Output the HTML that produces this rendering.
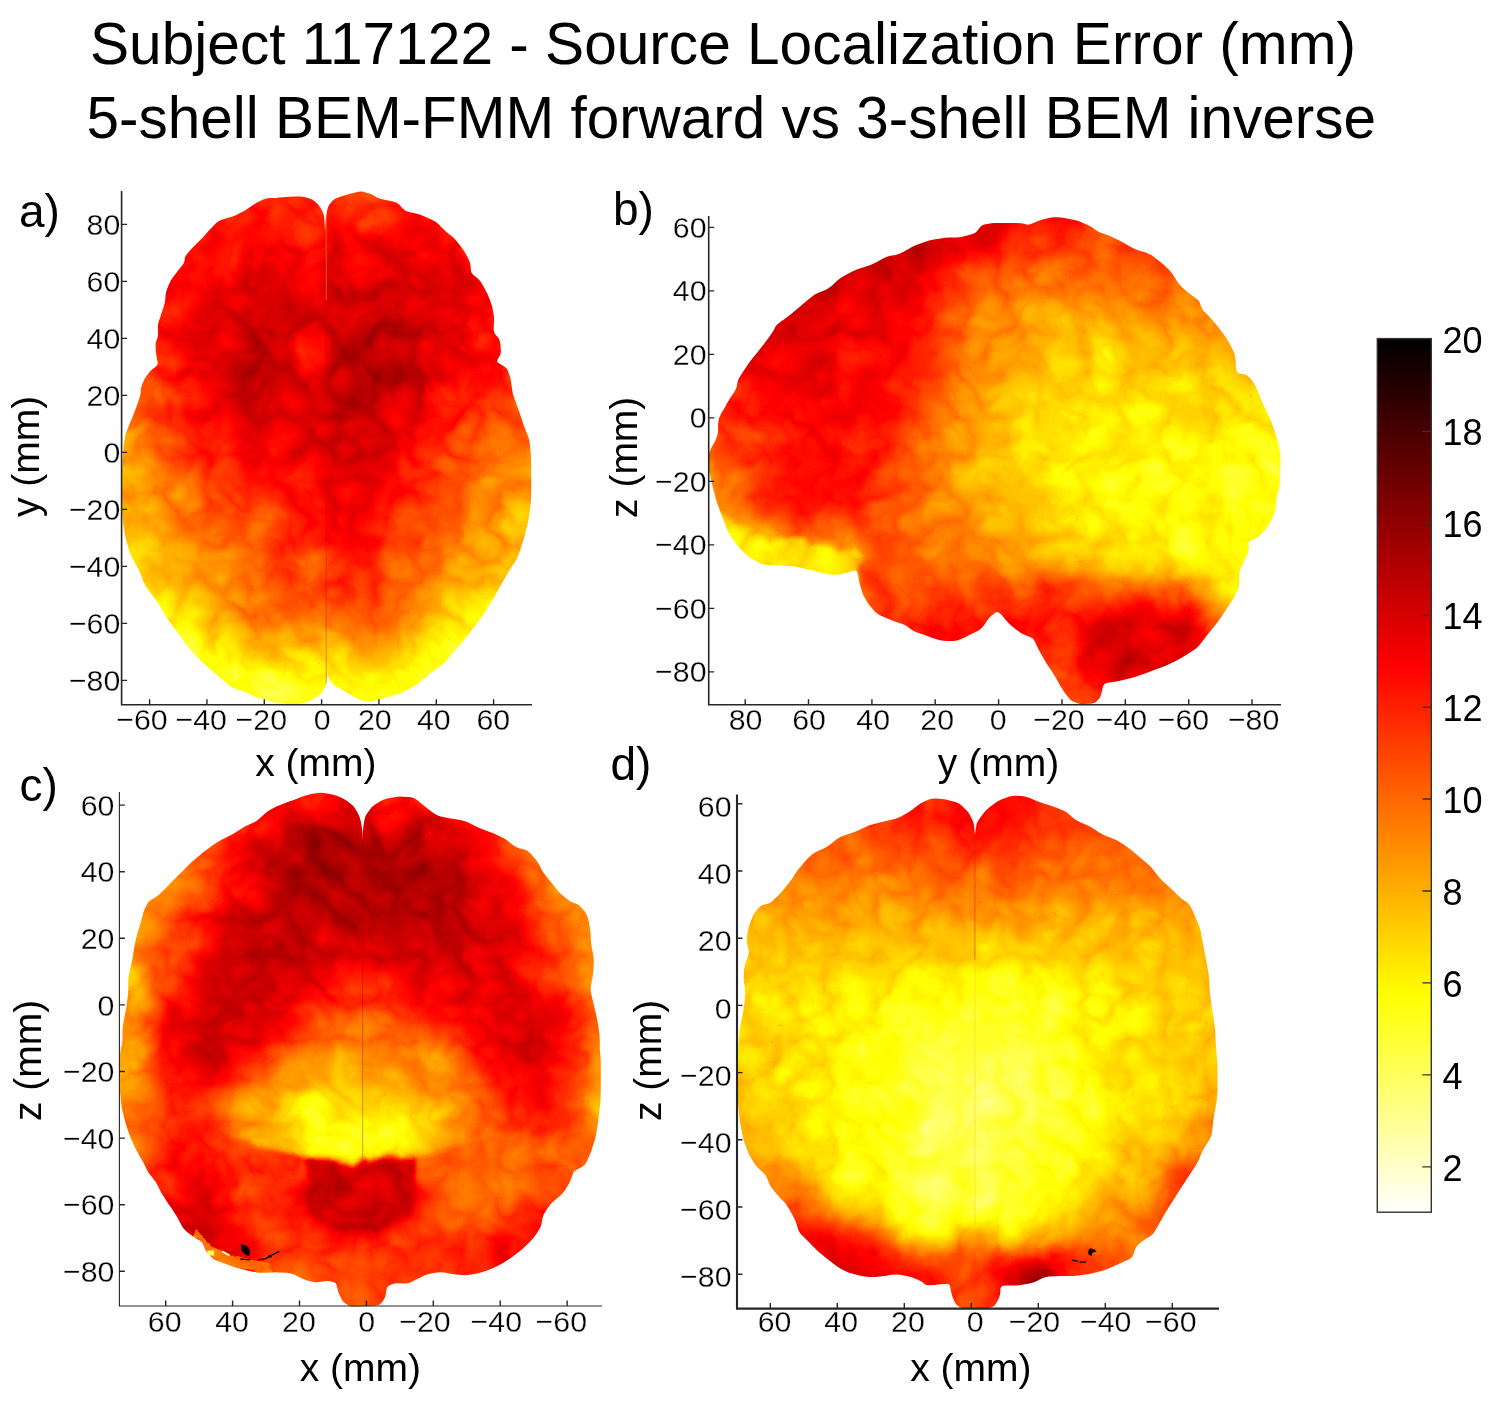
<!DOCTYPE html>
<html lang="en"><head><meta charset="utf-8"><title>Subject 117122 - Source Localization Error</title>
<style>html,body{margin:0;padding:0;background:#fff}body{width:1492px;height:1402px;overflow:hidden}svg{display:block}text{font-family:"Liberation Sans", "DejaVu Sans", sans-serif}</style>
</head><body>
<svg width="1492" height="1402" viewBox="0 0 1492 1402">
<defs>
<linearGradient id="hot" x1="0" y1="1" x2="0" y2="0"><stop offset="0" stop-color="#fff"/><stop offset="0.25" stop-color="#ff0"/><stop offset="0.625" stop-color="#f00"/><stop offset="1" stop-color="#000"/></linearGradient>
<filter id="cm-a" x="116" y="185" width="421" height="525" filterUnits="userSpaceOnUse" color-interpolation-filters="sRGB"><feTurbulence type="fractalNoise" baseFrequency="0.03" numOctaves="3" seed="3" result="n"/><feColorMatrix in="n" type="matrix" values="1 0 0 0 0 1 0 0 0 0 1 0 0 0 0 0 0 0 0 1" result="ng"/><feDisplacementMap in="SourceGraphic" in2="n" scale="16" xChannelSelector="G" yChannelSelector="B" result="d"/><feComposite in="d" in2="ng" operator="arithmetic" k1="0" k2="1" k3="0.08" k4="-0.04" result="e"/><feTurbulence type="turbulence" baseFrequency="0.024" numOctaves="2" seed="23" result="t"/><feColorMatrix in="t" type="matrix" values="1 0 0 0 0 1 0 0 0 0 1 0 0 0 0 0 0 0 0 1" result="tg"/><feDisplacementMap in="tg" in2="n" scale="20" xChannelSelector="R" yChannelSelector="G" result="tgd"/><feComposite in="e" in2="tgd" operator="arithmetic" k1="0" k2="1" k3="0.15" k4="-0.0396" result="e"/><feComponentTransfer in="e"><feFuncR type="table" tableValues="0 0.333 0.667 1 1 1 1 1 1"/><feFuncG type="table" tableValues="0 0 0 0 0.333 0.667 1 1 1"/><feFuncB type="table" tableValues="0 0 0 0 0 0 0 0.5 1"/><feFuncA type="linear" slope="0" intercept="1"/></feComponentTransfer></filter>
<filter id="cm-b" x="702" y="211" width="584" height="499" filterUnits="userSpaceOnUse" color-interpolation-filters="sRGB"><feTurbulence type="fractalNoise" baseFrequency="0.03" numOctaves="3" seed="5" result="n"/><feColorMatrix in="n" type="matrix" values="1 0 0 0 0 1 0 0 0 0 1 0 0 0 0 0 0 0 0 1" result="ng"/><feDisplacementMap in="SourceGraphic" in2="n" scale="16" xChannelSelector="G" yChannelSelector="B" result="d"/><feComposite in="d" in2="ng" operator="arithmetic" k1="0" k2="1" k3="0.07" k4="-0.035" result="e"/><feTurbulence type="turbulence" baseFrequency="0.024" numOctaves="2" seed="25" result="t"/><feColorMatrix in="t" type="matrix" values="1 0 0 0 0 1 0 0 0 0 1 0 0 0 0 0 0 0 0 1" result="tg"/><feDisplacementMap in="tg" in2="n" scale="20" xChannelSelector="R" yChannelSelector="G" result="tgd"/><feComposite in="e" in2="tgd" operator="arithmetic" k1="0" k2="1" k3="0.13" k4="-0.03432" result="e"/><feComponentTransfer in="e"><feFuncR type="table" tableValues="0 0.333 0.667 1 1 1 1 1 1"/><feFuncG type="table" tableValues="0 0 0 0 0.333 0.667 1 1 1"/><feFuncB type="table" tableValues="0 0 0 0 0 0 0 0.5 1"/><feFuncA type="linear" slope="0" intercept="1"/></feComponentTransfer></filter>
<filter id="cm-c" x="113" y="786" width="493" height="526" filterUnits="userSpaceOnUse" color-interpolation-filters="sRGB"><feTurbulence type="fractalNoise" baseFrequency="0.03" numOctaves="3" seed="7" result="n"/><feColorMatrix in="n" type="matrix" values="1 0 0 0 0 1 0 0 0 0 1 0 0 0 0 0 0 0 0 1" result="ng"/><feDisplacementMap in="SourceGraphic" in2="n" scale="9" xChannelSelector="G" yChannelSelector="B" result="d"/><feComposite in="d" in2="ng" operator="arithmetic" k1="0" k2="1" k3="0.08" k4="-0.04" result="e"/><feTurbulence type="turbulence" baseFrequency="0.024" numOctaves="2" seed="27" result="t"/><feColorMatrix in="t" type="matrix" values="1 0 0 0 0 1 0 0 0 0 1 0 0 0 0 0 0 0 0 1" result="tg"/><feDisplacementMap in="tg" in2="n" scale="20" xChannelSelector="R" yChannelSelector="G" result="tgd"/><feComposite in="e" in2="tgd" operator="arithmetic" k1="0" k2="1" k3="0.15" k4="-0.0396" result="e"/><feComponentTransfer in="e"><feFuncR type="table" tableValues="0 0.333 0.667 1 1 1 1 1 1"/><feFuncG type="table" tableValues="0 0 0 0 0.333 0.667 1 1 1"/><feFuncB type="table" tableValues="0 0 0 0 0 0 0 0.5 1"/><feFuncA type="linear" slope="0" intercept="1"/></feComponentTransfer></filter>
<filter id="cm-d" x="731" y="789" width="491" height="524" filterUnits="userSpaceOnUse" color-interpolation-filters="sRGB"><feTurbulence type="fractalNoise" baseFrequency="0.03" numOctaves="3" seed="9" result="n"/><feColorMatrix in="n" type="matrix" values="1 0 0 0 0 1 0 0 0 0 1 0 0 0 0 0 0 0 0 1" result="ng"/><feDisplacementMap in="SourceGraphic" in2="n" scale="16" xChannelSelector="G" yChannelSelector="B" result="d"/><feComposite in="d" in2="ng" operator="arithmetic" k1="0" k2="1" k3="0.07" k4="-0.035" result="e"/><feTurbulence type="turbulence" baseFrequency="0.024" numOctaves="2" seed="29" result="t"/><feColorMatrix in="t" type="matrix" values="1 0 0 0 0 1 0 0 0 0 1 0 0 0 0 0 0 0 0 1" result="tg"/><feDisplacementMap in="tg" in2="n" scale="20" xChannelSelector="R" yChannelSelector="G" result="tgd"/><feComposite in="e" in2="tgd" operator="arithmetic" k1="0" k2="1" k3="0.13" k4="-0.03432" result="e"/><feComponentTransfer in="e"><feFuncR type="table" tableValues="0 0.333 0.667 1 1 1 1 1 1"/><feFuncG type="table" tableValues="0 0 0 0 0.333 0.667 1 1 1"/><feFuncB type="table" tableValues="0 0 0 0 0 0 0 0.5 1"/><feFuncA type="linear" slope="0" intercept="1"/></feComponentTransfer></filter>
<filter id="blur" x="0" y="0" width="100%" height="100%" filterUnits="userSpaceOnUse" color-interpolation-filters="sRGB"><feGaussianBlur stdDeviation="7"/></filter>
<filter id="blur2" x="0" y="0" width="100%" height="100%" filterUnits="userSpaceOnUse" color-interpolation-filters="sRGB"><feGaussianBlur stdDeviation="2.5"/></filter>
<linearGradient id="gl-c" gradientUnits="userSpaceOnUse" x1="0" y1="1140" x2="0" y2="1195"><stop offset="0" stop-color="#707070"/><stop offset="0.35" stop-color="#707070"/><stop offset="1" stop-color="#707070" stop-opacity="0"/></linearGradient><linearGradient id="gr-c" gradientUnits="userSpaceOnUse" x1="0" y1="1140" x2="0" y2="1195"><stop offset="0" stop-color="#878787"/><stop offset="0.35" stop-color="#878787"/><stop offset="1" stop-color="#878787" stop-opacity="0"/></linearGradient>
<clipPath id="clip-a"><path d="M324.4 219.5Q324.2 214.7 322.7 212L320.5 207.7Q319 205 317.1 203.4L314.2 200.9Q312.3 199.3 309.6 198.5L305.3 197.2Q302.6 196.4 299.9 196.4L295.7 196.4Q293 196.4 289.2 196.8L283.3 197.3Q279.5 197.7 275.7 197.9L269.8 198.1Q266 198.3 263.3 199.5L259.1 201.5Q256.4 202.7 253.2 205L248 208.5Q244.8 210.8 242.1 212.1L237.9 214.3Q235.2 215.6 232.5 216.4L228.3 217.7Q225.6 218.5 223.4 219.3L220.1 220.6Q217.9 221.4 215.7 223.6L212.4 226.9Q210.2 229.1 208 231.5L204.7 235.4Q202.5 237.8 199.8 240.5L195.5 244.7Q192.8 247.4 190.6 249.8L187.3 253.7Q185.1 256.1 184.8 258L184.5 260.9Q184.2 262.8 182.3 265.2L179.3 269.1Q177.4 271.5 175.5 273.9L172.6 277.8Q170.7 280.2 169.4 283.4L167.2 288.5Q165.9 291.7 165.6 294.9L165.2 300.1Q164.9 303.3 163.8 306.5L162.1 311.6Q161 314.8 160.1 317.5L158.7 321.8Q157.8 324.5 157.9 327.7L158.1 332.8Q158.2 336 157.4 338.2L156.1 341.5Q155.3 343.7 155.6 346.9L155.9 352.1Q156.2 355.3 156.8 358L157.6 362.2Q158.2 364.9 156 366.5L152.7 369.1Q150.5 370.7 148.9 372.9L146.3 376.2Q144.7 378.4 143.6 381.1L141.9 385.3Q140.8 388 140.8 389.6L140.8 392.2Q140.8 393.8 139.7 397L138.1 402.2Q137 405.4 136.2 407.6L134.9 410.9Q134.1 413.1 132.8 416.3L130.6 421.5Q129.3 424.7 128.2 427.4L126.5 431.6Q125.4 434.3 124.8 438.7L123.7 445.6Q123.1 450 122.8 458.4L122.3 471.6Q122 480 122.1 491.2L122.3 508.7Q122.4 519.9 123.4 525.5L125 534.2Q126 539.8 127.1 543.7L128.9 549.9Q130 553.8 132.8 558.8L137.1 566.8Q139.9 571.8 141.3 575.7L143.5 581.8Q144.9 585.7 148 589.6L152.8 595.8Q155.9 599.7 159.3 605.3L164.5 614.1Q167.9 619.7 171.3 624.2L176.5 631.1Q179.9 635.6 182.7 639.5L187.1 645.7Q189.9 649.6 193.8 653.5L199.9 659.7Q203.8 663.6 207.7 667L213.9 672.2Q217.8 675.6 221.7 679L227.9 684.2Q231.8 687.6 235.7 689L241.9 691.1Q245.8 692.5 250.3 694.5L257.2 697.5Q261.7 699.5 266.7 700.6L274.7 702.4Q279.7 703.5 284.2 703.8L291.2 704.2Q295.7 704.5 299.6 703.7L305.7 702.3Q309.6 701.5 313 699.3L318.2 695.7Q321.6 693.5 323 691L325.1 687.1Q326.5 684.6 326.8 681.1L327.3 675.5Q327.6 672 328.1 674.2L328.9 677.8Q329.4 680 330.7 681.6L332.7 684Q334 685.6 335.7 686.4L338.3 687.8Q340 688.6 342.8 690.3L347.1 692.8Q349.9 694.5 352.7 696.2L357.1 698.8Q359.9 700.5 362.7 700.8L367.1 701.2Q369.9 701.5 373.8 700.7L380 699.3Q383.9 698.5 388.4 697.1L395.4 694.9Q399.9 693.5 404.4 691.3L411.3 687.8Q415.8 685.6 419.7 682.2L425.9 677Q429.8 673.6 433.7 670.8L439.9 666.4Q443.8 663.6 447.2 659.7L452.4 653.5Q455.8 649.6 459.1 645.7L464.4 639.5Q467.7 635.6 471.1 631.1L476.3 624.2Q479.7 619.7 483.1 614.7L488.3 606.7Q491.7 601.7 494.5 596.7L498.9 588.7Q501.7 583.7 503.9 579.8L507.5 573.7Q509.7 569.8 511.9 566.4L515.4 561.2Q517.6 557.8 519.3 552.8L521.9 544.8Q523.6 539.8 525 534.2L527.2 525.5Q528.6 519.9 529.3 514.3L530.5 505.5Q531.2 499.9 531.2 488.7L531.2 471.2Q531.2 460 530.8 454.4L530 445.6Q529.6 440 528.1 436.2L525.7 430.4Q524.2 426.6 522.6 421.7L520 414.1Q518.4 409.2 516.8 404.9L514.2 398.1Q512.6 393.8 512.1 389.5L511.2 382.7Q510.7 378.4 509.6 375.4L508 370.8Q506.9 367.8 503.9 366.2L499.3 363.6Q496.3 362 497.6 359.6L499.8 355.8Q501.1 353.4 500.8 349.6L500.4 343.7Q500.1 339.9 498.2 337.7L495.3 334.4Q493.4 332.2 493.7 328.4L494 322.5Q494.3 318.7 493.8 315.5L492.9 310.3Q492.4 307.1 491.1 303.3L488.9 297.5Q487.6 293.7 485.4 289.9L482.1 284Q479.9 280.2 477.5 278.3L473.6 275.3Q471.2 273.4 470.9 270.4L470.6 265.8Q470.3 262.8 468.7 259.6L466.1 254.5Q464.5 251.3 461.8 247.8L457.5 242.3Q454.8 238.8 452.1 236.6L447.9 233.2Q445.2 231 442.5 228.3L438.3 224.1Q435.6 221.4 431.3 219.5L424.5 216.6Q420.2 214.7 415.9 213.6L409.1 211.9Q404.8 210.8 402.6 208.4L399.3 204.6Q397.1 202.2 392.2 201.3L384.6 199.8Q379.7 198.9 377 197.4L372.8 195Q370.1 193.5 367.4 192.9L363.2 191.8Q360.5 191.2 356.2 192.3L349.3 193.9Q345 195 341.8 196.2L336.7 198.1Q333.5 199.3 331.9 201.5L329.3 204.8Q327.7 207 327.2 210.2L326.3 215.3Q325.8 218.5 325.6 222.3L325.2 228.2Q325 232 324.8 227.2Z"/></clipPath>
<clipPath id="clip-b"><path d="M708.4 457.5Q708.4 453.4 711.1 448.3L715.4 440.4Q718.1 435.3 718.1 430.8L718.1 423.7Q718.1 419.2 720.9 414.1L725.4 406.2Q728.2 401.1 730.4 397.7L734 392.4Q736.2 389 736.8 386.2L737.6 381.8Q738.2 379 741.6 373.9L746.9 366Q750.3 360.9 753.1 357.5L757.5 352.2Q760.3 348.8 763.7 344.3L769 337.2Q772.4 332.7 773.5 330.5L775.3 326.9Q776.4 324.7 780.3 321.9L786.6 317.4Q790.5 314.6 794.4 311.2L800.7 306Q804.6 302.6 807.4 300.3L811.8 296.8Q814.6 294.5 818.5 292.8L824.8 290.2Q828.7 288.5 832.1 285.4L837.4 280.5Q840.8 277.4 845.3 275.2L852.3 271.6Q856.8 269.4 861.3 268L868.4 265.7Q872.9 264.3 876.8 262.1L883.1 258.5Q887 256.3 890.4 255.7L895.7 254.9Q899.1 254.3 903 252L909.3 248.5Q913.2 246.2 917.7 244.5L924.7 241.9Q929.2 240.2 933.7 239.5L940.8 238.5Q945.3 237.8 949.8 237.6L956.9 237.4Q961.4 237.2 965.3 236.1L971.6 234.3Q975.5 233.2 977.2 230.9L979.8 227.4Q981.5 225.1 984.3 224.5L988.8 223.7Q991.6 223.1 994 223.1L997.6 223.1Q1000 223.1 1006.2 223.1L1016 223.1Q1022.2 223.1 1023.9 223.7L1026.5 224.5Q1028.2 225.1 1031.6 223.7L1036.9 221.5Q1040.3 220.1 1043.7 219.3L1048.9 217.9Q1052.3 217.1 1055.7 217.3L1061 217.5Q1064.4 217.7 1068.3 218.7L1074.6 220.1Q1078.5 221.1 1081.9 222.5L1087.1 224.7Q1090.5 226.1 1092.8 227.8L1096.3 230.5Q1098.6 232.2 1102 233.3L1107.3 235.1Q1110.7 236.2 1114.1 237.9L1119.3 240.5Q1122.7 242.2 1126.1 244.2L1131.4 247.3Q1134.8 249.3 1138.7 250.4L1145 252.2Q1148.9 253.3 1152.3 255.8L1157.5 259.8Q1160.9 262.3 1163.7 264.8L1168.2 268.9Q1171 271.4 1173.2 275.1L1176.8 280.8Q1179 284.5 1181.8 287L1186.3 291Q1189.1 293.5 1191.9 295.5L1196.3 298.5Q1199.1 300.5 1199.9 303L1201.3 307.1Q1202.1 309.6 1204.6 312.1L1208.7 316.1Q1211.2 318.6 1214 322L1218.4 327.3Q1221.2 330.7 1223.5 334.1L1227 339.4Q1229.3 342.8 1231 346.2L1233.6 351.4Q1235.3 354.8 1235.6 359.9L1236 367.8Q1236.3 372.9 1239.4 373.5L1244.3 374.3Q1247.4 374.9 1249.6 377.7L1253.2 382.2Q1255.4 385 1257.1 389.5L1259.8 396.6Q1261.5 401.1 1263.7 405.6L1267.3 412.7Q1269.5 417.2 1271.2 421.7L1273.8 428.8Q1275.5 433.3 1276.6 437.8L1278.5 444.8Q1279.6 449.3 1279.9 452.3L1280.3 457Q1280.6 460 1280.3 467.3L1279.9 478.9Q1279.6 486.2 1278.7 489.6L1277.4 494.9Q1276.5 498.3 1276.2 501.7L1275.8 506.9Q1275.5 510.3 1273.8 514.2L1271.2 520.5Q1269.5 524.4 1266.7 527.8L1262.3 533.1Q1259.5 536.5 1256.1 538.2L1250.8 540.8Q1247.4 542.5 1248 543.6L1248.8 545.4Q1249.4 546.5 1248.8 548.8L1248 552.3Q1247.4 554.6 1245.1 559.1L1241.6 566.2Q1239.3 570.7 1239.3 575.2L1239.3 582.2Q1239.3 586.7 1237.6 590.1L1235 595.4Q1233.3 598.8 1231.1 602.2L1227.5 607.5Q1225.3 610.9 1223 614.3L1219.5 619.5Q1217.2 622.9 1214.4 626.3L1210 631.6Q1207.2 635 1204.4 638.7L1199.9 644.4Q1197.1 648.1 1193.2 650.6L1186.9 654.6Q1183 657.1 1178.5 659.4L1171.5 662.9Q1167 665.2 1162.5 666.9L1155.4 669.5Q1150.9 671.2 1146.4 672.9L1139.3 675.5Q1134.8 677.2 1130.3 678.3L1123.2 680.1Q1118.7 681.2 1114.5 681.8L1107.8 682.7Q1103.6 683.3 1102.8 687.2L1101.4 693.4Q1100.6 697.3 1098.9 699L1096.3 701.7Q1094.6 703.4 1090.7 703.7L1084.4 704.1Q1080.5 704.4 1077.7 703.3L1073.2 701.5Q1070.4 700.4 1068.2 697.3L1064.6 692.4Q1062.4 689.3 1060.1 685.4L1056.6 679.1Q1054.3 675.2 1052.1 671.8L1048.5 666.6Q1046.3 663.2 1044.1 659.3L1040.5 653Q1038.3 649.1 1036.9 646L1034.6 641.1Q1033.2 638 1030.1 636.9L1025.3 635.1Q1022.2 634 1018.8 631.5L1013.5 627.4Q1010.1 624.9 1006.7 621L1001.4 614.8Q998 610.9 995.6 612.6L992 615.2Q989.6 616.9 987.3 620.3L983.8 625.6Q981.5 629 978.1 630.7L972.9 633.3Q969.5 635 966.1 636.7L960.8 639.3Q957.4 641 952.9 641L945.8 641Q941.3 641 937.4 639.6L931.1 637.4Q927.2 636 923.3 634.6L917.1 632.4Q913.2 631 910.9 629.3L907.4 626.6Q905.1 624.9 901.7 623.8L896.4 622Q893 620.9 888.5 618.9L881.5 615.9Q877 613.9 874.7 611.4L871.2 607.3Q868.9 604.8 867.2 602L864.6 597.6Q862.9 594.8 861.8 590.9L860 584.6Q858.9 580.7 858.3 577.6L857.4 572.7Q856.8 569.6 852.3 571L845.3 573.3Q840.8 574.7 837.4 574.7L832.1 574.7Q828.7 574.7 824.2 573.6L817.1 571.8Q812.6 570.7 808.1 569.6L801 567.7Q796.5 566.6 792 566.3L784.9 565.9Q780.4 565.6 775.3 565.3L767.4 564.9Q762.3 564.6 758.4 562.4L752.2 558.8Q748.3 556.6 744.9 553.2L739.6 547.9Q736.2 544.5 734 541.1L730.4 535.8Q728.2 532.4 726.5 527.9L723.8 520.9Q722.1 516.4 720.4 511.9L717.8 504.8Q716.1 500.3 715 495.8L713.2 488.7Q712.1 484.2 711.1 479.7L709.4 472.6Q708.4 468.1 708.4 464Z"/></clipPath>
<clipPath id="clip-c"><path d="M362.4 833.4Q362.3 830.1 361.8 826.9L360.9 821.7Q360.4 818.5 358.8 815.3L356.2 810.2Q354.6 807 351.9 804.8L347.7 801.5Q345 799.3 341.8 797.9L336.6 795.8Q333.4 794.4 329.6 793.9L323.7 793Q319.9 792.5 316.1 793.2L310.3 794.3Q306.5 795 302.7 796.5L296.8 798.7Q293 800.2 289.2 801.5L283.3 803.7Q279.5 805 276.3 806.6L271.1 809.2Q267.9 810.8 264.7 813.8L259.6 818.4Q256.4 821.4 253.2 822.7L248 824.9Q244.8 826.2 241.6 828.4L236.5 831.7Q233.3 833.9 229 836.1L222.2 839.4Q217.9 841.6 214.1 844.3L208.2 848.6Q204.4 851.3 200.6 854.5L194.7 859.6Q190.9 862.8 187.7 866L182.5 871.2Q179.3 874.4 176.6 877.1L172.4 881.3Q169.7 884 166.5 887.2L161.4 892.4Q158.2 895.6 155.5 897.2L151.2 899.7Q148.5 901.3 147.2 904L145 908.3Q143.7 911 142.9 914.2L141.6 919.3Q140.8 922.5 139.7 925.7L138.1 930.9Q137 934.1 136.2 937.9L134.9 943.8Q134.1 947.6 133.5 951.4L132.7 957.2Q132.1 961 131 965.3L129.4 972.2Q128.3 976.5 128.3 980.8L128.3 987.6Q128.3 991.9 127.8 996.2L126.9 1003Q126.4 1007.3 125.3 1012.7L123.6 1021.1Q122.5 1026.5 122.5 1030.8L122.5 1037.6Q122.5 1041.9 122 1044.2L121.1 1047.7Q120.6 1050 120.3 1052.6L119.9 1056.7Q119.6 1059.3 119.6 1067.4L119.6 1080.1Q119.6 1088.2 120.2 1093.6L121 1102Q121.6 1107.4 122.7 1111.7L124.3 1118.5Q125.4 1122.8 126.5 1126L128.2 1131.2Q129.3 1134.4 130.9 1138.2L133.4 1144.1Q135 1147.9 137.2 1151.7L140.5 1157.5Q142.7 1161.3 144.3 1164.5L146.9 1169.7Q148.5 1172.9 150.7 1175.6L154 1179.8Q156.2 1182.5 157.8 1185.7L160.4 1190.9Q162 1194.1 164.2 1197.3L167.5 1202.4Q169.7 1205.6 171.9 1208.8L175.2 1214Q177.4 1217.2 179 1220.4L181.6 1225.6Q183.2 1228.8 185.9 1231L190.1 1234.3Q192.8 1236.5 195.5 1238.1L199.7 1240.6Q202.4 1242.2 203.5 1244.9L205.2 1249.2Q206.3 1251.9 208.5 1254.1L211.8 1257.4Q214 1259.6 218.3 1261.2L225.1 1263.7Q229.4 1265.3 233.7 1266.7L240.5 1268.8Q244.8 1270.2 249.1 1271L255.9 1272.2Q260.2 1273 264.5 1272.7L271.3 1272.4Q275.6 1272.1 279.9 1272.4L286.7 1272.7Q291 1273 294.2 1274.6L299.4 1277.2Q302.6 1278.8 305.8 1279.9L311 1281.6Q314.2 1282.7 318 1282.2L323.8 1281.3Q327.6 1280.8 330 1281.3L333.9 1282.2Q336.3 1282.7 336.8 1285.4L337.7 1289.6Q338.2 1292.3 339.5 1295L341.7 1299.2Q343 1301.9 345.2 1303.3L348.5 1305.4Q350.7 1306.8 358.7 1306.5L371.3 1306.1Q379.3 1305.8 380.9 1303.6L383.4 1300.3Q385 1298.1 385.6 1294.9L386.4 1289.7Q387 1286.5 389.2 1285.5L392.5 1284.1Q394.7 1283.1 398.5 1283.2L404.4 1283.5Q408.2 1283.6 410.9 1282.3L415.1 1280.1Q417.8 1278.8 420.5 1277.5L424.7 1275.3Q427.4 1274 431.2 1273.5L437.1 1272.6Q440.9 1272.1 444.1 1272.6L449.2 1273.5Q452.4 1274 456.2 1274.4L462.1 1275Q465.9 1275.4 469.7 1274.7L475.6 1273.7Q479.4 1273 482.6 1271.9L487.8 1270.3Q491 1269.2 494.2 1267.6L499.3 1265Q502.5 1263.4 505.7 1261.2L510.9 1257.9Q514.1 1255.7 516.8 1253.5L521 1250.2Q523.7 1248 526.4 1245.3L530.6 1241.1Q533.3 1238.4 535.5 1235.2L538.8 1230Q541 1226.8 541.6 1223.6L542.4 1218.5Q543 1215.3 545.2 1212.1L548.5 1206.9Q550.7 1203.7 553.9 1201L559 1196.8Q562.2 1194.1 564.4 1190.9L567.7 1185.7Q569.9 1182.5 571 1179.3L572.7 1174.2Q573.8 1171 577 1169.4L582.1 1166.8Q585.3 1165.2 586.9 1161.4L589.5 1155.5Q591.1 1151.7 592.4 1147.4L594.6 1140.6Q595.9 1136.3 596.7 1130.9L598 1122.4Q598.8 1117 599.4 1111.6L600.2 1103.2Q600.8 1097.8 600.8 1087L600.8 1070.1Q600.8 1059.3 600.5 1056.7L600.1 1052.6Q599.8 1050 599.8 1046.7L599.8 1041.4Q599.8 1038.1 599.3 1033.8L598.4 1027Q597.9 1022.7 596.8 1017.8L595.1 1010.2Q594 1005.3 592.9 1001L591.3 994.2Q590.2 989.9 591 985.6L592.3 978.8Q593.1 974.5 593.4 970.2L593.7 963.4Q594 959.1 593.2 954.8L591.9 948Q591.1 943.7 590.8 939.4L590.5 932.6Q590.2 928.3 589.4 924.5L588.1 918.6Q587.3 914.8 585.1 912.1L581.8 907.9Q579.6 905.2 576.9 904.1L572.6 902.4Q569.9 901.3 567.2 899.1L563 895.8Q560.3 893.6 558.1 890.9L554.8 886.7Q552.6 884 549.9 880.8L545.7 875.6Q543 872.4 541.4 869.2L538.8 864.1Q537.2 860.9 534.5 857.9L530.3 853.3Q527.6 850.3 524.4 849.5L519.2 848.2Q516 847.4 513.3 845.2L509.1 841.9Q506.4 839.7 503.2 838.1L498 835.5Q494.8 833.9 490.5 832.3L483.7 829.8Q479.4 828.2 475.1 826L468.3 822.6Q464 820.4 460.2 819.9L454.3 819Q450.5 818.5 446.7 817.7L440.8 816.4Q437 815.6 433.8 813.2L428.7 809.4Q425.5 807 422.3 804.3L417.1 800Q413.9 797.3 409.6 797L402.8 796.7Q398.5 796.4 394.2 797.2L387.4 798.5Q383.1 799.3 379.9 801.5L374.8 804.8Q371.6 807 369.7 809.7L366.7 813.9Q364.8 816.6 364.3 820.4L363.4 826.3Q362.9 830.1 362.8 833.4L362.7 838.7Q362.6 842 362.5 838.7Z"/></clipPath>
<clipPath id="clip-d"><path d="M975 837.3Q975 833.9 974.6 830.7L974 825.6Q973.6 822.4 972.3 819.7L970.1 815.4Q968.8 812.7 966.1 810L961.9 805.8Q959.2 803.1 955.4 802L949.5 800.4Q945.7 799.3 941.9 799L936 798.6Q932.2 798.3 929 799.6L923.9 801.8Q920.7 803.1 918 805.3L913.7 808.6Q911 810.8 907.2 813L901.4 816.3Q897.6 818.5 893.8 819.3L887.9 820.6Q884.1 821.4 879.8 822.5L873 824.2Q868.7 825.3 864.9 827.2L859 830.1Q855.2 832 850.9 833.3L844.1 835.5Q839.8 836.8 836 839.8L830.1 844.4Q826.3 847.4 823.1 848.7L817.9 850.9Q814.7 852.2 812.5 854.1L809.2 857.1Q807 859 804.3 862.2L800.1 867.3Q797.4 870.5 795.2 873.7L791.9 878.9Q789.7 882.1 787 885.3L782.8 890.4Q780.1 893.6 777.4 896.3L773.1 900.6Q770.4 903.3 767.7 903.8L763.5 904.7Q760.8 905.2 758.6 907.9L755.3 912.1Q753.1 914.8 751.8 918.6L749.6 924.5Q748.3 928.3 747.8 931.5L746.9 936.7Q746.4 939.9 747.2 943.7L748.5 949.5Q749.3 953.3 747.9 956.5L745.8 961.7Q744.4 964.9 744.1 968.7L743.8 974.6Q743.5 978.4 744 982.7L744.9 989.5Q745.4 993.8 744.9 998.6L744 1006.3Q743.5 1011.1 742.4 1016L740.7 1023.6Q739.6 1028.5 739.2 1034.5L738.5 1044Q738.1 1050 738 1063.4L737.8 1084.4Q737.7 1097.8 738.2 1104.3L739.1 1114.4Q739.6 1120.9 740.7 1126.3L742.4 1134.8Q743.5 1140.2 745.1 1144.5L747.7 1151.3Q749.3 1155.6 751.5 1158.8L754.8 1163.9Q757 1167.1 759.4 1169.3L763.2 1172.6Q765.6 1174.8 766.9 1178L769.1 1183.2Q770.4 1186.4 772.6 1189.1L776 1193.3Q778.2 1196 780.4 1198.2L783.7 1201.5Q785.9 1203.7 787.5 1206.4L790 1210.6Q791.6 1213.3 792.7 1215.5L794.4 1218.8Q795.5 1221 796.6 1224.2L798.2 1229.4Q799.3 1232.6 802 1235.3L806.3 1239.5Q809 1242.2 811.7 1244.9L815.9 1249.2Q818.6 1251.9 821.3 1254.1L825.5 1257.4Q828.2 1259.6 830.9 1261.8L835.2 1265.1Q837.9 1267.3 841.1 1268.9L846.2 1271.4Q849.4 1273 853.7 1274.1L860.5 1275.8Q864.8 1276.9 869.1 1276.9L875.9 1276.9Q880.2 1276.9 884.5 1276.1L891.3 1274.8Q895.6 1274 899.9 1274.8L906.7 1276.1Q911 1276.9 913.7 1278L918 1279.7Q920.7 1280.8 922.3 1282.1L924.9 1284.3Q926.5 1285.6 929.7 1285.3L934.8 1284.9Q938 1284.6 941.2 1284.3L946.4 1283.9Q949.6 1283.6 950.1 1286.6L951 1291.2Q951.5 1294.2 952.6 1296.9L954.3 1301.2Q955.4 1303.9 957 1305.1L959.5 1306.9Q961.1 1308.1 969 1308.1L981.4 1308.1Q989.3 1308.1 990.9 1307.5L993.4 1306.4Q995 1305.8 996.4 1303.1L998.5 1298.9Q999.9 1296.2 1000.2 1293.2L1000.5 1288.6Q1000.8 1285.6 1005.6 1285.6L1013.3 1285.6Q1018.1 1285.6 1022.4 1284.8L1029.3 1283.5Q1033.6 1282.7 1036.8 1281.1L1041.9 1278.5Q1045.1 1276.9 1048.9 1276.6L1054.8 1276.2Q1058.6 1275.9 1062.9 1275.9L1069.7 1275.9Q1074 1275.9 1078.3 1275.4L1085.1 1274.5Q1089.4 1274 1093.7 1272.9L1100.5 1271.3Q1104.8 1270.2 1109.1 1268.3L1115.9 1265.3Q1120.2 1263.4 1123.7 1261.8L1129.2 1259.2Q1132.7 1257.6 1133.5 1254.6L1134.8 1250Q1135.6 1247 1137.8 1245.1L1141.1 1242.2Q1143.3 1240.3 1146 1238.7L1150.3 1236.1Q1153 1234.5 1155.2 1230.7L1158.5 1224.8Q1160.7 1221 1162.9 1217.2L1166.2 1211.4Q1168.4 1207.6 1170.6 1204.4L1173.9 1199.2Q1176.1 1196 1177.7 1193.3L1180.3 1189.1Q1181.9 1186.4 1184.1 1183.2L1187.4 1178Q1189.6 1174.8 1191.8 1171.6L1195.1 1166.5Q1197.3 1163.3 1198.9 1159.5L1201.4 1153.6Q1203 1149.8 1205.4 1146L1209.3 1140.1Q1211.7 1136.3 1212.2 1130.9L1213.1 1122.4Q1213.6 1117 1214.7 1111.6L1216.4 1103.2Q1217.5 1097.8 1217.5 1088.6L1217.5 1074.2Q1217.5 1065 1217 1058L1216.1 1047Q1215.6 1040 1215.6 1039.5L1215.6 1038.6Q1215.6 1038.1 1215.3 1034.3L1214.9 1028.4Q1214.6 1024.6 1213.8 1019.8L1212.5 1012.1Q1211.7 1007.3 1211.2 1003L1210.3 996.2Q1209.8 991.9 1209.5 987L1209.1 979.4Q1208.8 974.5 1208 970.2L1206.7 963.4Q1205.9 959.1 1205.1 954.8L1203.8 948Q1203 943.7 1202.2 939.4L1201 932.6Q1200.2 928.3 1198.6 924.5L1196 918.6Q1194.4 914.8 1193.1 911.8L1190.9 907.2Q1189.6 904.2 1186.9 902.3L1182.6 899.4Q1179.9 897.5 1177.2 894.8L1173 890.6Q1170.3 887.9 1167.3 885.2L1162.7 880.9Q1159.7 878.2 1157.3 875L1153.4 869.9Q1151 866.7 1147.8 864L1142.7 859.7Q1139.5 857 1136.3 854.3L1131.1 850.1Q1127.9 847.4 1124.7 845.2L1119.6 841.9Q1116.4 839.7 1112.6 838.4L1106.7 836.2Q1102.9 834.9 1099.1 832.5L1093.2 828.6Q1089.4 826.2 1085.6 824.6L1079.7 822Q1075.9 820.4 1073.2 818L1069 814.2Q1066.3 811.8 1063.1 810.5L1057.9 808.3Q1054.7 807 1050.4 805.6L1043.6 803.5Q1039.3 802.1 1035.5 800.5L1029.7 798Q1025.9 796.4 1022.1 796.1L1016.2 795.7Q1012.4 795.4 1008.1 797L1001.3 799.6Q997 801.2 993.8 803.9L988.6 808.1Q985.4 810.8 983 814L979.1 819.2Q976.7 822.4 976.2 826.2L975.3 832.1Q974.8 835.9 974.8 838.7L974.9 843.2Q974.9 846 974.9 842.6Z"/></clipPath>
</defs>
<rect width="1492" height="1402" fill="#fff"/>
<g font-size="59.5" fill="#000">
<text x="90" y="64" textLength="1266" lengthAdjust="spacingAndGlyphs">Subject 117122 - Source Localization Error (mm)</text>
<text x="86.5" y="137.5" textLength="1289.5" lengthAdjust="spacingAndGlyphs">5-shell BEM-FMM forward vs 3-shell BEM inverse</text>
</g>
<g clip-path="url(#clip-a)"><g filter="url(#cm-a)">
<g filter="url(#blur)">
<path fill="#cacaca" d="M438 657h20v10h-20zM418 667h50v10h-50zM228 677h20v10h-20zM398 677h60v10h-60zM218 687h50v10h-50zM378 687h70v10h-70zM218 697h100v10h-100zM378 697h50v10h-50zM228 707h100v10h-100zM378 707h40v10h-40zM248 717h70v10h-70zM378 717h20v10h-20z"/>
<path fill="#c5c5c5" d="M168 647h30v10h-30zM438 647h40v10h-40zM168 657h50v10h-50zM418 657h20v10h-20zM458 657h20v10h-20zM178 667h60v10h-60zM408 667h10v10h-10zM188 677h40v10h-40zM248 677h30v10h-30zM308 677h20v10h-20zM388 677h10v10h-10zM198 687h20v10h-20zM268 687h60v10h-60zM348 687h30v10h-30zM318 697h10v10h-10zM338 697h40v10h-40zM328 707h50v10h-50zM348 717h30v10h-30z"/>
<path fill="#bfbfbf" d="M178 627h10v10h-10zM458 627h20v10h-20zM168 637h30v10h-30zM448 637h40v10h-40zM158 647h10v10h-10zM198 647h10v10h-10zM428 647h10v10h-10zM478 647h10v10h-10zM218 657h20v10h-20zM408 657h10v10h-10zM238 667h30v10h-30zM308 667h20v10h-20zM388 667h20v10h-20zM278 677h30v10h-30zM328 677h60v10h-60zM328 687h20v10h-20zM328 697h10v10h-10z"/>
<path fill="#bababa" d="M128 587h30v10h-30zM128 597h40v10h-40zM138 607h30v10h-30zM478 607h30v10h-30zM138 617h50v10h-50zM458 617h50v10h-50zM148 627h30v10h-30zM188 627h10v10h-10zM448 627h10v10h-10zM478 627h20v10h-20zM158 637h10v10h-10zM198 637h10v10h-10zM438 637h10v10h-10zM208 647h20v10h-20zM418 647h10v10h-10zM238 657h20v10h-20zM398 657h10v10h-10zM268 667h40v10h-40zM328 667h60v10h-60z"/>
<path fill="#b5b5b5" d="M118 567h30v10h-30zM118 577h40v10h-40zM118 587h10v10h-10zM158 587h10v10h-10zM168 597h10v10h-10zM478 597h20v10h-20zM168 607h20v10h-20zM458 607h20v10h-20zM188 617h10v10h-10zM448 617h10v10h-10zM198 627h10v10h-10zM438 627h10v10h-10zM208 637h10v10h-10zM428 637h10v10h-10zM228 647h20v10h-20zM408 647h10v10h-10zM258 657h90v10h-90zM388 657h10v10h-10z"/>
<path fill="#afafaf" d="M108 537h30v10h-30zM108 547h40v10h-40zM108 557h40v10h-40zM108 567h10v10h-10zM148 567h10v10h-10zM158 577h10v10h-10zM168 587h10v10h-10zM478 587h40v10h-40zM178 597h10v10h-10zM468 597h10v10h-10zM498 597h20v10h-20zM188 607h10v10h-10zM448 607h10v10h-10zM508 607h10v10h-10zM198 617h10v10h-10zM438 617h10v10h-10zM208 627h10v10h-10zM428 627h10v10h-10zM218 637h20v10h-20zM418 637h10v10h-10zM248 647h20v10h-20zM298 647h30v10h-30zM398 647h10v10h-10zM348 657h40v10h-40z"/>
<path fill="#aaaaaa" d="M108 517h20v10h-20zM108 527h30v10h-30zM138 537h10v10h-10zM148 547h10v10h-10zM148 557h10v10h-10zM508 557h40v10h-40zM158 567h10v10h-10zM498 567h40v10h-40zM168 577h10v10h-10zM478 577h50v10h-50zM178 587h10v10h-10zM468 587h10v10h-10zM518 587h10v10h-10zM188 597h10v10h-10zM448 597h20v10h-20zM198 607h10v10h-10zM438 607h10v10h-10zM208 617h10v10h-10zM428 617h10v10h-10zM218 627h10v10h-10zM418 627h10v10h-10zM238 637h10v10h-10zM408 637h10v10h-10zM268 647h30v10h-30zM328 647h20v10h-20zM378 647h20v10h-20z"/>
<path fill="#a5a5a5" d="M108 497h20v10h-20zM108 507h20v10h-20zM128 517h10v10h-10zM138 527h10v10h-10zM148 537h10v10h-10zM158 547h10v10h-10zM508 547h30v10h-30zM158 557h10v10h-10zM498 557h10v10h-10zM168 567h10v10h-10zM478 567h20v10h-20zM178 577h10v10h-10zM468 577h10v10h-10zM188 587h10v10h-10zM458 587h10v10h-10zM198 597h10v10h-10zM438 597h10v10h-10zM208 607h10v10h-10zM428 607h10v10h-10zM218 617h10v10h-10zM418 617h10v10h-10zM228 627h10v10h-10zM408 627h10v10h-10zM248 637h20v10h-20zM298 637h40v10h-40zM398 637h10v10h-10zM348 647h30v10h-30z"/>
<path fill="#9f9f9f" d="M108 447h20v10h-20zM108 457h20v10h-20zM108 467h20v10h-20zM108 477h20v10h-20zM108 487h20v10h-20zM128 497h10v10h-10zM128 507h20v10h-20zM138 517h20v10h-20zM518 517h30v10h-30zM148 527h10v10h-10zM508 527h40v10h-40zM158 537h10v10h-10zM498 537h50v10h-50zM168 547h10v10h-10zM488 547h20v10h-20zM538 547h10v10h-10zM168 557h10v10h-10zM478 557h20v10h-20zM178 567h10v10h-10zM468 567h10v10h-10zM188 577h10v10h-10zM448 577h20v10h-20zM198 587h10v10h-10zM438 587h20v10h-20zM208 597h10v10h-10zM218 607h10v10h-10zM228 617h10v10h-10zM238 627h20v10h-20zM398 627h10v10h-10zM268 637h30v10h-30zM338 637h10v10h-10zM378 637h20v10h-20z"/>
<path fill="#9a9a9a" d="M128 467h10v10h-10zM128 477h10v10h-10zM128 487h20v10h-20zM138 497h10v10h-10zM518 497h30v10h-30zM148 507h10v10h-10zM508 507h40v10h-40zM158 517h10v10h-10zM498 517h20v10h-20zM158 527h20v10h-20zM488 527h20v10h-20zM168 537h10v10h-10zM478 537h20v10h-20zM178 547h10v10h-10zM468 547h20v10h-20zM178 557h20v10h-20zM458 557h20v10h-20zM188 567h10v10h-10zM448 567h20v10h-20zM198 577h10v10h-10zM438 577h10v10h-10zM208 587h10v10h-10zM218 597h10v10h-10zM428 597h10v10h-10zM228 607h10v10h-10zM418 607h10v10h-10zM238 617h10v10h-10zM408 617h10v10h-10zM258 627h10v10h-10zM298 627h40v10h-40zM388 627h10v10h-10zM348 637h30v10h-30z"/>
<path fill="#959595" d="M108 437h30v10h-30zM128 447h10v10h-10zM128 457h10v10h-10zM138 467h10v10h-10zM518 467h30v10h-30zM138 477h10v10h-10zM508 477h40v10h-40zM148 487h10v10h-10zM508 487h40v10h-40zM148 497h20v10h-20zM498 497h20v10h-20zM158 507h10v10h-10zM488 507h20v10h-20zM168 517h10v10h-10zM478 517h20v10h-20zM178 527h10v10h-10zM478 527h10v10h-10zM178 537h20v10h-20zM468 537h10v10h-10zM188 547h10v10h-10zM458 547h10v10h-10zM198 557h10v10h-10zM448 557h10v10h-10zM198 567h20v10h-20zM438 567h10v10h-10zM208 577h20v10h-20zM428 577h10v10h-10zM218 587h20v10h-20zM428 587h10v10h-10zM228 597h10v10h-10zM418 597h10v10h-10zM238 607h10v10h-10zM408 607h10v10h-10zM248 617h20v10h-20zM318 617h10v10h-10zM398 617h10v10h-10zM268 627h30v10h-30zM338 627h10v10h-10zM378 627h10v10h-10z"/>
<path fill="#8f8f8f" d="M108 397h10v10h-10zM108 407h30v10h-30zM108 417h30v10h-30zM108 427h30v10h-30zM138 447h10v10h-10zM518 447h30v10h-30zM138 457h10v10h-10zM508 457h40v10h-40zM148 467h10v10h-10zM498 467h20v10h-20zM148 477h10v10h-10zM498 477h10v10h-10zM158 487h10v10h-10zM488 487h20v10h-20zM168 497h10v10h-10zM478 497h20v10h-20zM168 507h20v10h-20zM468 507h20v10h-20zM178 517h20v10h-20zM468 517h10v10h-10zM188 527h10v10h-10zM458 527h20v10h-20zM198 537h10v10h-10zM448 537h20v10h-20zM198 547h20v10h-20zM438 547h20v10h-20zM208 557h20v10h-20zM438 557h10v10h-10zM218 567h20v10h-20zM428 567h10v10h-10zM228 577h10v10h-10zM418 577h10v10h-10zM238 587h10v10h-10zM418 587h10v10h-10zM238 597h10v10h-10zM408 597h10v10h-10zM248 607h10v10h-10zM398 607h10v10h-10zM268 617h10v10h-10zM298 617h20v10h-20zM328 617h10v10h-10zM388 617h10v10h-10zM348 627h30v10h-30z"/>
<path fill="#8a8a8a" d="M138 417h10v10h-10zM138 427h10v10h-10zM138 437h10v10h-10zM508 437h40v10h-40zM498 447h20v10h-20zM148 457h10v10h-10zM488 457h20v10h-20zM488 467h10v10h-10zM158 477h10v10h-10zM478 477h20v10h-20zM168 487h10v10h-10zM468 487h20v10h-20zM178 497h10v10h-10zM468 497h10v10h-10zM188 507h10v10h-10zM458 507h10v10h-10zM198 517h10v10h-10zM448 517h20v10h-20zM198 527h20v10h-20zM438 527h20v10h-20zM208 537h20v10h-20zM438 537h10v10h-10zM218 547h20v10h-20zM428 547h10v10h-10zM228 557h20v10h-20zM428 557h10v10h-10zM238 567h10v10h-10zM418 567h10v10h-10zM238 577h20v10h-20zM408 577h10v10h-10zM248 587h10v10h-10zM408 587h10v10h-10zM248 597h20v10h-20zM398 597h10v10h-10zM258 607h20v10h-20zM308 607h20v10h-20zM388 607h10v10h-10zM278 617h20v10h-20zM338 617h10v10h-10zM378 617h10v10h-10z"/>
<path fill="#858585" d="M118 397h30v10h-30zM138 407h10v10h-10zM538 407h10v10h-10zM528 417h20v10h-20zM148 427h10v10h-10zM508 427h40v10h-40zM148 437h10v10h-10zM498 437h10v10h-10zM148 447h10v10h-10zM488 447h10v10h-10zM158 457h10v10h-10zM478 457h10v10h-10zM158 467h10v10h-10zM468 467h20v10h-20zM168 477h10v10h-10zM458 477h20v10h-20zM178 487h10v10h-10zM458 487h10v10h-10zM188 497h20v10h-20zM448 497h20v10h-20zM198 507h20v10h-20zM438 507h20v10h-20zM208 517h20v10h-20zM438 517h10v10h-10zM218 527h20v10h-20zM428 527h10v10h-10zM228 537h20v10h-20zM428 537h10v10h-10zM238 547h20v10h-20zM418 547h10v10h-10zM248 557h10v10h-10zM418 557h10v10h-10zM248 567h20v10h-20zM408 567h10v10h-10zM258 577h10v10h-10zM258 587h10v10h-10zM398 587h10v10h-10zM268 597h10v10h-10zM388 597h10v10h-10zM278 607h30v10h-30zM328 607h20v10h-20zM378 607h10v10h-10zM348 617h30v10h-30z"/>
<path fill="#808080" d="M118 367h10v10h-10zM118 377h30v10h-30zM108 387h40v10h-40zM148 407h10v10h-10zM508 407h30v10h-30zM148 417h10v10h-10zM498 417h30v10h-30zM488 427h20v10h-20zM158 437h10v10h-10zM478 437h20v10h-20zM158 447h10v10h-10zM468 447h20v10h-20zM168 457h10v10h-10zM468 457h10v10h-10zM168 467h20v10h-20zM458 467h10v10h-10zM178 477h20v10h-20zM448 477h10v10h-10zM188 487h20v10h-20zM438 487h20v10h-20zM208 497h10v10h-10zM438 497h10v10h-10zM218 507h10v10h-10zM428 507h10v10h-10zM228 517h10v10h-10zM418 517h20v10h-20zM238 527h10v10h-10zM418 527h10v10h-10zM248 537h10v10h-10zM418 537h10v10h-10zM258 547h10v10h-10zM408 547h10v10h-10zM258 557h10v10h-10zM408 557h10v10h-10zM268 567h10v10h-10zM398 567h10v10h-10zM268 577h10v10h-10zM398 577h10v10h-10zM268 587h20v10h-20zM388 587h10v10h-10zM278 597h60v10h-60zM378 597h10v10h-10zM348 607h30v10h-30z"/>
<path fill="#7a7a7a" d="M348 177h30v10h-30zM358 187h20v10h-20zM528 377h10v10h-10zM148 387h10v10h-10zM518 387h20v10h-20zM148 397h10v10h-10zM508 397h40v10h-40zM498 407h10v10h-10zM158 417h10v10h-10zM488 417h10v10h-10zM158 427h10v10h-10zM478 427h10v10h-10zM168 437h10v10h-10zM468 437h10v10h-10zM168 447h10v10h-10zM458 447h10v10h-10zM178 457h10v10h-10zM448 457h20v10h-20zM188 467h10v10h-10zM448 467h10v10h-10zM198 477h10v10h-10zM438 477h10v10h-10zM208 487h10v10h-10zM428 487h10v10h-10zM218 497h20v10h-20zM418 497h20v10h-20zM228 507h20v10h-20zM418 507h10v10h-10zM238 517h20v10h-20zM408 517h10v10h-10zM248 527h20v10h-20zM408 527h10v10h-10zM258 537h10v10h-10zM408 537h10v10h-10zM268 547h10v10h-10zM398 547h10v10h-10zM268 557h10v10h-10zM388 557h20v10h-20zM278 567h10v10h-10zM388 567h10v10h-10zM278 577h20v10h-20zM378 577h20v10h-20zM288 587h50v10h-50zM378 587h10v10h-10zM338 597h40v10h-40z"/>
<path fill="#757575" d="M338 177h10v10h-10zM378 177h10v10h-10zM338 187h20v10h-20zM378 187h10v10h-10zM338 197h50v10h-50zM148 377h10v10h-10zM498 387h20v10h-20zM158 397h10v10h-10zM488 397h20v10h-20zM158 407h10v10h-10zM478 407h20v10h-20zM168 417h10v10h-10zM468 417h20v10h-20zM168 427h10v10h-10zM458 427h20v10h-20zM458 437h10v10h-10zM178 447h10v10h-10zM448 447h10v10h-10zM188 457h10v10h-10zM438 457h10v10h-10zM198 467h10v10h-10zM428 467h20v10h-20zM208 477h20v10h-20zM428 477h10v10h-10zM218 487h20v10h-20zM418 487h10v10h-10zM238 497h10v10h-10zM408 497h10v10h-10zM248 507h10v10h-10zM408 507h10v10h-10zM258 517h10v10h-10zM398 517h10v10h-10zM268 527h10v10h-10zM398 527h10v10h-10zM268 537h20v10h-20zM398 537h10v10h-10zM278 547h10v10h-10zM388 547h10v10h-10zM278 557h20v10h-20zM378 557h10v10h-10zM288 567h20v10h-20zM378 567h10v10h-10zM298 577h40v10h-40zM368 577h10v10h-10zM338 587h40v10h-40z"/>
<path fill="#707070" d="M268 177h70v10h-70zM388 177h20v10h-20zM268 187h70v10h-70zM388 187h30v10h-30zM268 197h70v10h-70zM388 197h20v10h-20zM338 207h50v10h-50zM128 347h10v10h-10zM128 357h30v10h-30zM128 367h30v10h-30zM158 377h10v10h-10zM498 377h30v10h-30zM158 387h10v10h-10zM488 387h10v10h-10zM168 397h10v10h-10zM478 397h10v10h-10zM168 407h10v10h-10zM468 407h10v10h-10zM458 417h10v10h-10zM178 427h10v10h-10zM448 427h10v10h-10zM178 437h20v10h-20zM438 437h20v10h-20zM188 447h10v10h-10zM438 447h10v10h-10zM198 457h10v10h-10zM428 457h10v10h-10zM208 467h20v10h-20zM418 467h10v10h-10zM228 477h10v10h-10zM418 477h10v10h-10zM238 487h20v10h-20zM408 487h10v10h-10zM248 497h20v10h-20zM398 497h10v10h-10zM258 507h20v10h-20zM398 507h10v10h-10zM268 517h10v10h-10zM388 517h10v10h-10zM278 527h10v10h-10zM388 527h10v10h-10zM288 537h10v10h-10zM378 537h20v10h-20zM288 547h20v10h-20zM378 547h10v10h-10zM298 557h20v10h-20zM368 557h10v10h-10zM308 567h70v10h-70zM338 577h30v10h-30z"/>
<path fill="#6a6a6a" d="M238 177h30v10h-30zM218 187h50v10h-50zM228 197h40v10h-40zM238 207h100v10h-100zM388 207h10v10h-10zM348 217h40v10h-40zM518 347h10v10h-10zM508 357h20v10h-20zM158 367h10v10h-10zM488 367h50v10h-50zM168 377h10v10h-10zM478 377h20v10h-20zM168 387h10v10h-10zM468 387h20v10h-20zM178 397h10v10h-10zM458 397h20v10h-20zM178 407h10v10h-10zM458 407h10v10h-10zM178 417h10v10h-10zM448 417h10v10h-10zM188 427h10v10h-10zM438 427h10v10h-10zM198 437h10v10h-10zM428 437h10v10h-10zM198 447h20v10h-20zM418 447h20v10h-20zM208 457h20v10h-20zM418 457h10v10h-10zM228 467h20v10h-20zM408 467h10v10h-10zM238 477h20v10h-20zM398 477h20v10h-20zM258 487h20v10h-20zM398 487h10v10h-10zM268 497h10v10h-10zM388 497h10v10h-10zM278 507h10v10h-10zM388 507h10v10h-10zM278 517h20v10h-20zM288 527h20v10h-20zM378 527h10v10h-10zM298 537h20v10h-20zM368 537h10v10h-10zM308 547h20v10h-20zM358 547h20v10h-20zM318 557h50v10h-50z"/>
<path fill="#656565" d="M418 187h10v10h-10zM208 197h20v10h-20zM408 197h10v10h-10zM198 207h40v10h-40zM398 207h20v10h-20zM188 217h160v10h-160zM388 217h20v10h-20zM178 227h140v10h-140zM358 227h30v10h-30zM168 237h70v10h-70zM168 247h50v10h-50zM188 257h10v10h-10zM488 337h40v10h-40zM138 347h30v10h-30zM488 347h30v10h-30zM158 357h20v10h-20zM478 357h30v10h-30zM168 367h10v10h-10zM468 367h20v10h-20zM178 377h10v10h-10zM458 377h20v10h-20zM178 387h10v10h-10zM458 387h10v10h-10zM188 397h10v10h-10zM448 397h10v10h-10zM188 407h10v10h-10zM438 407h20v10h-20zM188 417h20v10h-20zM428 417h20v10h-20zM198 427h10v10h-10zM428 427h10v10h-10zM208 437h10v10h-10zM418 437h10v10h-10zM218 447h20v10h-20zM408 447h10v10h-10zM228 457h30v10h-30zM408 457h10v10h-10zM248 467h20v10h-20zM398 467h10v10h-10zM258 477h30v10h-30zM388 477h10v10h-10zM278 487h20v10h-20zM388 487h10v10h-10zM278 497h20v10h-20zM288 507h20v10h-20zM378 507h10v10h-10zM298 517h20v10h-20zM368 517h20v10h-20zM308 527h20v10h-20zM358 527h20v10h-20zM318 537h50v10h-50zM328 547h30v10h-30z"/>
<path fill="#606060" d="M428 187h10v10h-10zM418 197h30v10h-30zM418 207h40v10h-40zM408 217h60v10h-60zM318 227h40v10h-40zM388 227h90v10h-90zM238 237h150v10h-150zM438 237h50v10h-50zM158 247h10v10h-10zM218 247h80v10h-80zM458 247h40v10h-40zM158 257h30v10h-30zM198 257h50v10h-50zM148 267h90v10h-90zM138 277h90v10h-90zM488 277h20v10h-20zM138 287h80v10h-80zM478 287h40v10h-40zM138 297h70v10h-70zM478 297h40v10h-40zM128 307h70v10h-70zM478 307h50v10h-50zM128 317h70v10h-70zM478 317h50v10h-50zM128 327h70v10h-70zM468 327h60v10h-60zM128 337h70v10h-70zM468 337h20v10h-20zM168 347h30v10h-30zM458 347h30v10h-30zM178 357h20v10h-20zM458 357h20v10h-20zM178 367h20v10h-20zM448 367h20v10h-20zM188 377h10v10h-10zM448 377h10v10h-10zM188 387h10v10h-10zM438 387h20v10h-20zM198 397h10v10h-10zM438 397h10v10h-10zM198 407h10v10h-10zM428 407h10v10h-10zM208 417h10v10h-10zM418 417h10v10h-10zM208 427h20v10h-20zM418 427h10v10h-10zM218 437h30v10h-30zM408 437h10v10h-10zM238 447h30v10h-30zM398 447h10v10h-10zM258 457h40v10h-40zM398 457h10v10h-10zM268 467h40v10h-40zM388 467h10v10h-10zM288 477h20v10h-20zM378 477h10v10h-10zM298 487h20v10h-20zM378 487h10v10h-10zM298 497h30v10h-30zM368 497h20v10h-20zM308 507h20v10h-20zM368 507h10v10h-10zM318 517h50v10h-50zM328 527h30v10h-30z"/>
<path fill="#5a5a5a" d="M388 237h50v10h-50zM298 247h160v10h-160zM248 257h90v10h-90zM408 257h90v10h-90zM238 267h70v10h-70zM428 267h70v10h-70zM228 277h20v10h-20zM438 277h50v10h-50zM218 287h20v10h-20zM438 287h40v10h-40zM208 297h20v10h-20zM448 297h30v10h-30zM198 307h30v10h-30zM448 307h30v10h-30zM198 317h30v10h-30zM448 317h30v10h-30zM198 327h20v10h-20zM448 327h20v10h-20zM198 337h20v10h-20zM448 337h20v10h-20zM198 347h20v10h-20zM448 347h10v10h-10zM198 357h20v10h-20zM438 357h20v10h-20zM198 367h10v10h-10zM438 367h10v10h-10zM198 377h20v10h-20zM438 377h10v10h-10zM198 387h20v10h-20zM428 387h10v10h-10zM208 397h20v10h-20zM418 397h20v10h-20zM208 407h30v10h-30zM418 407h10v10h-10zM218 417h30v10h-30zM408 417h10v10h-10zM228 427h80v10h-80zM398 427h20v10h-20zM248 437h70v10h-70zM398 437h10v10h-10zM268 447h60v10h-60zM388 447h10v10h-10zM298 457h30v10h-30zM378 457h20v10h-20zM308 467h30v10h-30zM368 467h20v10h-20zM308 477h30v10h-30zM368 477h10v10h-10zM318 487h60v10h-60zM328 497h40v10h-40zM328 507h40v10h-40z"/>
<path fill="#555555" d="M338 257h70v10h-70zM308 267h120v10h-120zM248 277h100v10h-100zM398 277h40v10h-40zM238 287h90v10h-90zM418 287h20v10h-20zM228 297h20v10h-20zM288 297h40v10h-40zM418 297h30v10h-30zM228 307h20v10h-20zM288 307h40v10h-40zM428 307h20v10h-20zM228 317h10v10h-10zM288 317h40v10h-40zM428 317h20v10h-20zM218 327h20v10h-20zM288 327h40v10h-40zM428 327h20v10h-20zM218 337h10v10h-10zM288 337h30v10h-30zM428 337h20v10h-20zM218 347h10v10h-10zM288 347h30v10h-30zM428 347h20v10h-20zM218 357h10v10h-10zM298 357h20v10h-20zM428 357h10v10h-10zM208 367h20v10h-20zM298 367h20v10h-20zM428 367h10v10h-10zM218 377h10v10h-10zM288 377h30v10h-30zM418 377h20v10h-20zM218 387h20v10h-20zM288 387h30v10h-30zM418 387h10v10h-10zM228 397h30v10h-30zM278 397h40v10h-40zM408 397h10v10h-10zM238 407h80v10h-80zM398 407h20v10h-20zM248 417h80v10h-80zM398 417h10v10h-10zM308 427h20v10h-20zM388 427h10v10h-10zM318 437h20v10h-20zM378 437h20v10h-20zM328 447h20v10h-20zM368 447h20v10h-20zM328 457h50v10h-50zM338 467h30v10h-30zM338 477h30v10h-30z"/>
<path fill="#505050" d="M348 277h50v10h-50zM328 287h40v10h-40zM388 287h30v10h-30zM248 297h40v10h-40zM328 297h20v10h-20zM398 297h20v10h-20zM248 307h40v10h-40zM328 307h20v10h-20zM408 307h20v10h-20zM238 317h50v10h-50zM328 317h10v10h-10zM408 317h20v10h-20zM238 327h50v10h-50zM328 327h10v10h-10zM408 327h20v10h-20zM228 337h20v10h-20zM268 337h20v10h-20zM318 337h20v10h-20zM418 337h10v10h-10zM228 347h20v10h-20zM268 347h20v10h-20zM318 347h10v10h-10zM418 347h10v10h-10zM228 357h20v10h-20zM268 357h30v10h-30zM318 357h10v10h-10zM408 357h20v10h-20zM228 367h20v10h-20zM268 367h30v10h-30zM318 367h10v10h-10zM408 367h20v10h-20zM228 377h60v10h-60zM318 377h10v10h-10zM408 377h10v10h-10zM238 387h50v10h-50zM318 387h10v10h-10zM398 387h20v10h-20zM258 397h20v10h-20zM318 397h10v10h-10zM388 397h20v10h-20zM318 407h20v10h-20zM388 407h10v10h-10zM328 417h10v10h-10zM378 417h20v10h-20zM328 427h30v10h-30zM368 427h20v10h-20zM338 437h40v10h-40zM348 447h20v10h-20z"/>
<path fill="#4a4a4a" d="M368 287h20v10h-20zM348 297h50v10h-50zM348 307h60v10h-60zM338 317h20v10h-20zM388 317h20v10h-20zM338 327h10v10h-10zM398 327h10v10h-10zM248 337h20v10h-20zM338 337h10v10h-10zM398 337h20v10h-20zM248 347h20v10h-20zM328 347h20v10h-20zM398 347h20v10h-20zM248 357h20v10h-20zM328 357h10v10h-10zM398 357h10v10h-10zM248 367h20v10h-20zM328 367h10v10h-10zM398 367h10v10h-10zM328 377h10v10h-10zM388 377h20v10h-20zM328 387h10v10h-10zM378 387h20v10h-20zM328 397h10v10h-10zM378 397h10v10h-10zM338 407h10v10h-10zM368 407h20v10h-20zM338 417h40v10h-40zM358 427h10v10h-10z"/>
<path fill="#454545" d="M358 317h30v10h-30zM348 327h50v10h-50zM348 337h50v10h-50zM348 347h50v10h-50zM338 357h20v10h-20zM378 357h20v10h-20zM338 367h20v10h-20zM378 367h20v10h-20zM338 377h10v10h-10zM368 377h20v10h-20zM338 387h10v10h-10zM368 387h10v10h-10zM338 397h40v10h-40zM348 407h20v10h-20z"/>
<path fill="#404040" d="M358 357h20v10h-20zM358 367h20v10h-20zM348 377h20v10h-20zM348 387h20v10h-20z"/>
</g>

</g>
<path d="M326.3 215V300" stroke="#ff9000" stroke-opacity="0.5" stroke-width="1.2" fill="none"/><path d="M326.3 300V690" stroke="#c00000" stroke-opacity="0.3" stroke-width="1.2" fill="none"/>
</g>
<g clip-path="url(#clip-b)"><g filter="url(#cm-b)">
<g filter="url(#blur)">
<path fill="#d4d4d4" d="M754 553h10v10h-10zM744 563h20v10h-20zM744 573h20v10h-20zM754 583h10v10h-10z"/>
<path fill="#cacaca" d="M764 553h10v10h-10zM764 563h10v10h-10zM804 563h10v10h-10zM764 573h10v10h-10zM794 573h20v10h-20zM764 583h10v10h-10zM784 583h30v10h-30zM804 593h10v10h-10z"/>
<path fill="#c5c5c5" d="M1244 463h30v10h-30zM1234 473h70v10h-70zM1224 483h80v10h-80zM1234 493h70v10h-70zM1254 503h50v10h-50zM1254 513h50v10h-50zM1254 523h40v10h-40zM1244 533h40v10h-40zM744 543h20v10h-20zM1244 543h40v10h-40zM734 553h20v10h-20zM774 553h10v10h-10zM1254 553h20v10h-20zM734 563h10v10h-10zM774 563h10v10h-10zM814 563h10v10h-10zM1264 563h10v10h-10zM774 573h10v10h-10zM814 573h10v10h-10zM774 583h10v10h-10zM814 583h10v10h-10zM814 593h10v10h-10z"/>
<path fill="#bfbfbf" d="M1294 423h10v10h-10zM1094 433h80v10h-80zM1284 433h20v10h-20zM1084 443h220v10h-220zM1084 453h220v10h-220zM1084 463h160v10h-160zM1274 463h30v10h-30zM1084 473h150v10h-150zM1084 483h140v10h-140zM1094 493h140v10h-140zM1094 503h160v10h-160zM1114 513h140v10h-140zM1134 523h120v10h-120zM1164 533h80v10h-80zM1184 543h60v10h-60zM1204 553h50v10h-50zM824 563h10v10h-10zM1214 563h50v10h-50zM824 573h10v10h-10zM1234 573h40v10h-40zM824 583h10v10h-10zM1244 583h20v10h-20zM824 593h10v10h-10zM1254 593h10v10h-10z"/>
<path fill="#bababa" d="M1084 403h70v10h-70zM1064 413h120v10h-120zM1064 423h230v10h-230zM1054 433h40v10h-40zM1174 433h110v10h-110zM1044 443h40v10h-40zM1044 453h40v10h-40zM1044 463h40v10h-40zM1054 473h30v10h-30zM1054 483h30v10h-30zM1064 493h30v10h-30zM1064 503h30v10h-30zM1074 513h40v10h-40zM1094 523h40v10h-40zM1114 533h50v10h-50zM1144 543h40v10h-40zM784 553h10v10h-10zM1164 553h40v10h-40zM784 563h10v10h-10zM834 563h10v10h-10zM1204 563h10v10h-10zM784 573h10v10h-10zM834 573h10v10h-10zM1214 573h20v10h-20zM834 583h10v10h-10z"/>
<path fill="#b5b5b5" d="M1074 383h70v10h-70zM1064 393h120v10h-120zM1284 393h10v10h-10zM1054 403h30v10h-30zM1154 403h140v10h-140zM1044 413h20v10h-20zM1184 413h120v10h-120zM1034 423h30v10h-30zM1034 433h20v10h-20zM1024 443h20v10h-20zM1014 453h30v10h-30zM1014 463h30v10h-30zM1024 473h30v10h-30zM1034 483h20v10h-20zM1044 493h20v10h-20zM1054 503h10v10h-10zM1054 513h20v10h-20zM1064 523h30v10h-30zM734 533h20v10h-20zM1084 533h30v10h-30zM724 543h20v10h-20zM764 543h10v10h-10zM1114 543h30v10h-30zM724 553h10v10h-10zM794 553h40v10h-40zM1144 553h20v10h-20zM794 563h10v10h-10zM1184 563h20v10h-20zM1204 573h10v10h-10zM1214 583h30v10h-30z"/>
<path fill="#afafaf" d="M1064 363h60v10h-60zM1054 373h130v10h-130zM1274 373h10v10h-10zM1044 383h30v10h-30zM1144 383h140v10h-140zM1034 393h30v10h-30zM1184 393h100v10h-100zM1034 403h20v10h-20zM1024 413h20v10h-20zM1014 423h20v10h-20zM1014 433h20v10h-20zM1004 443h20v10h-20zM994 453h20v10h-20zM994 463h20v10h-20zM1004 473h20v10h-20zM1014 483h20v10h-20zM1024 493h20v10h-20zM1034 503h20v10h-20zM1044 513h10v10h-10zM1044 523h20v10h-20zM754 533h10v10h-10zM1064 533h20v10h-20zM1084 543h30v10h-30zM834 553h10v10h-10zM1124 553h20v10h-20zM1144 563h40v10h-40zM1194 573h10v10h-10zM1224 593h30v10h-30zM1234 603h20v10h-20zM1244 613h10v10h-10z"/>
<path fill="#aaaaaa" d="M1064 343h40v10h-40zM1054 353h120v10h-120zM1254 353h10v10h-10zM1044 363h20v10h-20zM1124 363h100v10h-100zM1244 363h30v10h-30zM1034 373h20v10h-20zM1184 373h90v10h-90zM1024 383h20v10h-20zM1024 393h10v10h-10zM1014 403h20v10h-20zM1014 413h10v10h-10zM1004 423h10v10h-10zM994 433h20v10h-20zM984 443h20v10h-20zM984 453h10v10h-10zM984 463h10v10h-10zM984 473h20v10h-20zM994 483h20v10h-20zM1004 493h20v10h-20zM1014 503h20v10h-20zM1024 513h20v10h-20zM704 523h30v10h-30zM1034 523h10v10h-10zM704 533h30v10h-30zM1044 533h20v10h-20zM714 543h10v10h-10zM774 543h10v10h-10zM1064 543h20v10h-20zM1094 553h30v10h-30zM1134 563h10v10h-10zM1204 583h10v10h-10zM1214 593h10v10h-10z"/>
<path fill="#a5a5a5" d="M1074 323h10v10h-10zM1044 333h80v10h-80zM1034 343h30v10h-30zM1104 343h90v10h-90zM1034 353h20v10h-20zM1174 353h80v10h-80zM1024 363h20v10h-20zM1224 363h20v10h-20zM1014 373h20v10h-20zM1014 383h10v10h-10zM1004 393h20v10h-20zM1004 403h10v10h-10zM994 413h20v10h-20zM984 423h20v10h-20zM984 433h10v10h-10zM974 443h10v10h-10zM974 453h10v10h-10zM974 463h10v10h-10zM974 473h10v10h-10zM974 483h20v10h-20zM984 493h20v10h-20zM994 503h20v10h-20zM1004 513h20v10h-20zM734 523h10v10h-10zM1014 523h20v10h-20zM1014 533h30v10h-30zM824 543h10v10h-10zM1034 543h30v10h-30zM1074 553h20v10h-20zM844 563h10v10h-10zM1124 563h10v10h-10zM844 573h10v10h-10zM1154 573h40v10h-40z"/>
<path fill="#9f9f9f" d="M1054 313h50v10h-50zM1034 323h40v10h-40zM1084 323h50v10h-50zM1024 333h20v10h-20zM1124 333h80v10h-80zM1234 333h20v10h-20zM1024 343h10v10h-10zM1194 343h70v10h-70zM1014 353h20v10h-20zM1004 363h20v10h-20zM1004 373h10v10h-10zM994 383h20v10h-20zM994 393h10v10h-10zM984 403h20v10h-20zM974 413h20v10h-20zM974 423h10v10h-10zM964 433h20v10h-20zM964 443h10v10h-10zM964 453h10v10h-10zM964 463h10v10h-10zM964 473h10v10h-10zM964 483h10v10h-10zM964 493h20v10h-20zM974 503h20v10h-20zM984 513h20v10h-20zM744 523h10v10h-10zM994 523h20v10h-20zM764 533h10v10h-10zM1004 533h10v10h-10zM804 543h20v10h-20zM834 543h10v10h-10zM1014 543h20v10h-20zM844 553h10v10h-10zM1034 553h40v10h-40zM1094 563h30v10h-30zM1144 573h10v10h-10zM1194 583h10v10h-10zM1204 593h10v10h-10z"/>
<path fill="#9a9a9a" d="M1044 303h70v10h-70zM1024 313h30v10h-30zM1104 313h30v10h-30zM1234 313h10v10h-10zM1014 323h20v10h-20zM1134 323h110v10h-110zM1014 333h10v10h-10zM1204 333h30v10h-30zM1004 343h20v10h-20zM994 353h20v10h-20zM994 363h10v10h-10zM984 373h20v10h-20zM984 383h10v10h-10zM974 393h20v10h-20zM974 403h10v10h-10zM964 413h10v10h-10zM964 423h10v10h-10zM954 433h10v10h-10zM954 443h10v10h-10zM954 453h10v10h-10zM944 463h20v10h-20zM944 473h20v10h-20zM944 483h20v10h-20zM954 493h10v10h-10zM694 503h30v10h-30zM954 503h20v10h-20zM694 513h40v10h-40zM964 513h20v10h-20zM694 523h10v10h-10zM754 523h10v10h-10zM974 523h20v10h-20zM984 533h20v10h-20zM784 543h20v10h-20zM994 543h20v10h-20zM1004 553h30v10h-30zM1064 563h30v10h-30zM1134 573h10v10h-10zM1214 603h20v10h-20z"/>
<path fill="#959595" d="M1034 293h80v10h-80zM1014 303h30v10h-30zM1114 303h30v10h-30zM1214 303h20v10h-20zM1004 313h20v10h-20zM1134 313h100v10h-100zM994 323h20v10h-20zM984 333h30v10h-30zM984 343h20v10h-20zM974 353h20v10h-20zM974 363h20v10h-20zM974 373h10v10h-10zM974 383h10v10h-10zM964 393h10v10h-10zM954 403h20v10h-20zM954 413h10v10h-10zM954 423h10v10h-10zM944 433h10v10h-10zM944 443h10v10h-10zM944 453h10v10h-10zM934 463h10v10h-10zM934 473h10v10h-10zM934 483h10v10h-10zM694 493h30v10h-30zM934 493h20v10h-20zM934 503h20v10h-20zM734 513h10v10h-10zM944 513h20v10h-20zM954 523h20v10h-20zM774 533h10v10h-10zM964 533h20v10h-20zM844 543h10v10h-10zM974 543h20v10h-20zM994 553h10v10h-10zM1004 563h60v10h-60zM1094 573h40v10h-40zM1184 583h10v10h-10z"/>
<path fill="#8f8f8f" d="M1024 283h90v10h-90zM1004 293h30v10h-30zM1114 293h30v10h-30zM1204 293h20v10h-20zM994 303h20v10h-20zM1144 303h70v10h-70zM984 313h20v10h-20zM974 323h20v10h-20zM964 333h20v10h-20zM964 343h20v10h-20zM964 353h10v10h-10zM964 363h10v10h-10zM964 373h10v10h-10zM964 383h10v10h-10zM954 393h10v10h-10zM944 413h10v10h-10zM944 423h10v10h-10zM934 433h10v10h-10zM934 443h10v10h-10zM934 453h10v10h-10zM694 463h20v10h-20zM924 463h10v10h-10zM694 473h30v10h-30zM924 473h10v10h-10zM694 483h30v10h-30zM924 483h10v10h-10zM924 493h10v10h-10zM724 503h10v10h-10zM924 503h10v10h-10zM744 513h10v10h-10zM924 513h20v10h-20zM764 523h10v10h-10zM924 523h30v10h-30zM814 533h30v10h-30zM934 533h30v10h-30zM944 543h30v10h-30zM854 553h10v10h-10zM964 553h30v10h-30zM984 563h20v10h-20zM1064 573h30v10h-30zM1154 583h30v10h-30zM1194 593h10v10h-10zM1204 603h10v10h-10z"/>
<path fill="#8a8a8a" d="M1034 273h80v10h-80zM1004 283h20v10h-20zM1114 283h30v10h-30zM1194 283h20v10h-20zM984 293h20v10h-20zM1144 293h60v10h-60zM974 303h20v10h-20zM974 313h10v10h-10zM964 323h10v10h-10zM954 363h10v10h-10zM954 373h10v10h-10zM954 383h10v10h-10zM944 393h10v10h-10zM944 403h10v10h-10zM934 413h10v10h-10zM934 423h10v10h-10zM924 433h10v10h-10zM694 443h20v10h-20zM924 443h10v10h-10zM694 453h20v10h-20zM924 453h10v10h-10zM714 463h10v10h-10zM914 463h10v10h-10zM914 473h10v10h-10zM724 483h10v10h-10zM914 483h10v10h-10zM724 493h10v10h-10zM914 493h10v10h-10zM734 503h10v10h-10zM914 503h10v10h-10zM754 513h10v10h-10zM914 513h10v10h-10zM904 523h20v10h-20zM804 533h10v10h-10zM844 533h10v10h-10zM904 533h30v10h-30zM854 543h10v10h-10zM904 543h40v10h-40zM914 553h50v10h-50zM854 563h10v10h-10zM954 563h30v10h-30zM854 573h10v10h-10zM1004 573h60v10h-60zM844 583h20v10h-20zM1134 583h20v10h-20zM834 593h10v10h-10zM1214 613h30v10h-30zM1224 623h20v10h-20z"/>
<path fill="#858585" d="M1044 263h80v10h-80zM1004 273h30v10h-30zM1114 273h40v10h-40zM1184 273h20v10h-20zM984 283h20v10h-20zM1144 283h50v10h-50zM974 293h10v10h-10zM964 303h10v10h-10zM964 313h10v10h-10zM954 323h10v10h-10zM954 333h10v10h-10zM954 343h10v10h-10zM954 353h10v10h-10zM944 373h10v10h-10zM944 383h10v10h-10zM934 393h10v10h-10zM934 403h10v10h-10zM924 413h10v10h-10zM924 423h10v10h-10zM914 443h10v10h-10zM714 453h10v10h-10zM914 453h10v10h-10zM724 473h10v10h-10zM904 473h10v10h-10zM904 483h10v10h-10zM734 493h10v10h-10zM904 493h10v10h-10zM744 503h10v10h-10zM904 503h10v10h-10zM904 513h10v10h-10zM774 523h10v10h-10zM894 523h10v10h-10zM784 533h20v10h-20zM854 533h10v10h-10zM894 533h10v10h-10zM864 543h10v10h-10zM894 543h10v10h-10zM894 553h20v10h-20zM904 563h50v10h-50zM904 573h100v10h-100zM1074 583h60v10h-60zM1044 693h30v10h-30zM1044 703h30v10h-30zM1054 713h20v10h-20z"/>
<path fill="#808080" d="M1064 253h50v10h-50zM1004 263h40v10h-40zM1124 263h30v10h-30zM1174 263h20v10h-20zM984 273h20v10h-20zM1154 273h30v10h-30zM974 283h10v10h-10zM964 293h10v10h-10zM954 303h10v10h-10zM954 313h10v10h-10zM944 333h10v10h-10zM944 343h10v10h-10zM944 353h10v10h-10zM944 363h10v10h-10zM934 383h10v10h-10zM924 403h10v10h-10zM914 423h10v10h-10zM914 433h10v10h-10zM714 443h10v10h-10zM904 453h10v10h-10zM724 463h10v10h-10zM904 463h10v10h-10zM734 473h10v10h-10zM734 483h10v10h-10zM894 483h10v10h-10zM744 493h10v10h-10zM894 493h10v10h-10zM894 503h10v10h-10zM764 513h10v10h-10zM894 513h10v10h-10zM824 523h40v10h-40zM884 523h10v10h-10zM864 533h30v10h-30zM874 543h20v10h-20zM864 553h30v10h-30zM864 563h10v10h-10zM894 563h10v10h-10zM894 573h10v10h-10zM894 583h40v10h-40zM954 583h40v10h-40zM1044 583h30v10h-30zM1184 593h10v10h-10zM1204 613h10v10h-10zM1074 693h10v10h-10zM1074 703h10v10h-10zM1074 713h10v10h-10z"/>
<path fill="#7a7a7a" d="M1144 233h20v10h-20zM1084 243h30v10h-30zM1144 243h30v10h-30zM1024 253h40v10h-40zM1114 253h70v10h-70zM994 263h10v10h-10zM1154 263h20v10h-20zM974 273h10v10h-10zM964 283h10v10h-10zM954 293h10v10h-10zM944 313h10v10h-10zM944 323h10v10h-10zM934 363h10v10h-10zM934 373h10v10h-10zM924 383h10v10h-10zM924 393h10v10h-10zM914 403h10v10h-10zM914 413h10v10h-10zM904 423h10v10h-10zM694 433h30v10h-30zM904 433h10v10h-10zM724 443h10v10h-10zM904 443h10v10h-10zM724 453h10v10h-10zM894 453h10v10h-10zM734 463h10v10h-10zM894 463h10v10h-10zM894 473h10v10h-10zM744 483h10v10h-10zM754 503h10v10h-10zM884 503h10v10h-10zM884 513h10v10h-10zM784 523h40v10h-40zM864 523h20v10h-20zM874 563h20v10h-20zM864 573h10v10h-10zM884 573h10v10h-10zM934 583h20v10h-20zM994 583h50v10h-50zM894 593h40v10h-40zM954 593h30v10h-30zM1074 593h30v10h-30zM1194 603h10v10h-10zM1034 673h30v10h-30zM1034 683h40v10h-40zM1034 693h10v10h-10z"/>
<path fill="#757575" d="M1124 223h30v10h-30zM1124 233h20v10h-20zM1034 243h50v10h-50zM1114 243h30v10h-30zM1004 253h20v10h-20zM974 263h20v10h-20zM964 273h10v10h-10zM954 283h10v10h-10zM944 293h10v10h-10zM944 303h10v10h-10zM934 323h10v10h-10zM934 333h10v10h-10zM934 343h10v10h-10zM934 353h10v10h-10zM924 363h10v10h-10zM924 373h10v10h-10zM914 383h10v10h-10zM704 393h10v10h-10zM914 393h10v10h-10zM694 403h30v10h-30zM904 403h10v10h-10zM694 413h30v10h-30zM904 413h10v10h-10zM694 423h30v10h-30zM724 433h10v10h-10zM894 433h10v10h-10zM894 443h10v10h-10zM734 453h10v10h-10zM744 463h10v10h-10zM884 463h10v10h-10zM744 473h10v10h-10zM884 473h10v10h-10zM754 483h10v10h-10zM884 483h10v10h-10zM754 493h10v10h-10zM884 493h10v10h-10zM764 503h10v10h-10zM874 503h10v10h-10zM774 513h10v10h-10zM824 513h60v10h-60zM874 573h10v10h-10zM864 583h30v10h-30zM844 593h30v10h-30zM884 593h10v10h-10zM934 593h20v10h-20zM984 593h10v10h-10zM1044 593h30v10h-30zM1104 593h80v10h-80zM844 603h30v10h-30zM894 603h30v10h-30zM964 603h20v10h-20zM854 613h10v10h-10zM1204 623h20v10h-20zM1214 633h20v10h-20zM1044 653h10v10h-10zM1034 663h30v10h-30zM1024 673h10v10h-10zM1064 673h10v10h-10zM1074 683h10v10h-10zM1084 693h10v10h-10zM1084 703h10v10h-10zM1084 713h10v10h-10z"/>
<path fill="#707070" d="M1104 213h30v10h-30zM1104 223h20v10h-20zM1054 233h70v10h-70zM1014 243h20v10h-20zM984 253h20v10h-20zM964 263h10v10h-10zM954 273h10v10h-10zM944 283h10v10h-10zM934 303h10v10h-10zM934 313h10v10h-10zM924 323h10v10h-10zM924 333h10v10h-10zM924 343h10v10h-10zM924 353h10v10h-10zM914 363h10v10h-10zM914 373h10v10h-10zM904 383h10v10h-10zM904 393h10v10h-10zM894 403h10v10h-10zM724 413h10v10h-10zM894 413h10v10h-10zM724 423h20v10h-20zM894 423h10v10h-10zM734 433h10v10h-10zM884 433h10v10h-10zM734 443h20v10h-20zM884 443h10v10h-10zM744 453h20v10h-20zM884 453h10v10h-10zM754 463h10v10h-10zM754 473h20v10h-20zM874 473h10v10h-10zM764 483h10v10h-10zM874 483h10v10h-10zM764 493h10v10h-10zM864 493h20v10h-20zM774 503h10v10h-10zM834 503h40v10h-40zM784 513h40v10h-40zM874 593h10v10h-10zM994 593h10v10h-10zM1034 593h10v10h-10zM874 603h20v10h-20zM924 603h40v10h-40zM984 603h10v10h-10zM1054 603h20v10h-20zM864 613h60v10h-60zM864 623h50v10h-50zM874 633h30v10h-30zM884 643h10v10h-10zM1024 643h40v10h-40zM1014 653h30v10h-30zM1054 653h10v10h-10zM1024 663h10v10h-10zM1064 663h10v10h-10zM1094 693h30v10h-30zM1094 703h30v10h-30zM1094 713h20v10h-20z"/>
<path fill="#6a6a6a" d="M1074 203h40v10h-40zM1074 213h30v10h-30zM1074 223h30v10h-30zM1024 233h30v10h-30zM994 243h20v10h-20zM974 253h10v10h-10zM954 263h10v10h-10zM944 273h10v10h-10zM934 293h10v10h-10zM924 303h10v10h-10zM924 313h10v10h-10zM914 323h10v10h-10zM914 333h10v10h-10zM914 343h10v10h-10zM914 353h10v10h-10zM904 363h10v10h-10zM894 373h20v10h-20zM704 383h10v10h-10zM894 383h10v10h-10zM714 393h20v10h-20zM884 393h20v10h-20zM724 403h20v10h-20zM884 403h10v10h-10zM734 413h20v10h-20zM884 413h10v10h-10zM744 423h20v10h-20zM884 423h10v10h-10zM744 433h20v10h-20zM874 433h10v10h-10zM754 443h20v10h-20zM874 443h10v10h-10zM764 453h10v10h-10zM874 453h10v10h-10zM764 463h20v10h-20zM864 463h20v10h-20zM774 473h10v10h-10zM864 473h10v10h-10zM774 483h10v10h-10zM854 483h20v10h-20zM774 493h20v10h-20zM824 493h40v10h-40zM784 503h50v10h-50zM1004 593h10v10h-10zM1024 593h10v10h-10zM1034 603h20v10h-20zM1074 603h50v10h-50zM924 613h70v10h-70zM1044 613h20v10h-20zM1194 613h10v10h-10zM914 623h10v10h-10zM1044 623h10v10h-10zM904 633h20v10h-20zM1034 633h30v10h-30zM894 643h30v10h-30zM1064 653h10v10h-10zM1074 673h10v10h-10zM1084 683h10v10h-10z"/>
<path fill="#656565" d="M1034 213h10v10h-10zM1034 223h40v10h-40zM1004 233h20v10h-20zM984 243h10v10h-10zM964 253h10v10h-10zM944 263h10v10h-10zM934 273h10v10h-10zM934 283h10v10h-10zM924 293h10v10h-10zM914 303h10v10h-10zM914 313h10v10h-10zM904 323h10v10h-10zM904 333h10v10h-10zM894 343h20v10h-20zM724 353h10v10h-10zM894 353h20v10h-20zM714 363h30v10h-30zM884 363h20v10h-20zM704 373h40v10h-40zM874 373h20v10h-20zM714 383h40v10h-40zM874 383h20v10h-20zM734 393h30v10h-30zM874 393h10v10h-10zM744 403h30v10h-30zM864 403h20v10h-20zM754 413h20v10h-20zM864 413h20v10h-20zM764 423h20v10h-20zM864 423h20v10h-20zM764 433h30v10h-30zM864 433h10v10h-10zM774 443h30v10h-30zM854 443h20v10h-20zM774 453h50v10h-50zM844 453h30v10h-30zM784 463h80v10h-80zM784 473h80v10h-80zM784 483h70v10h-70zM794 493h30v10h-30zM1014 593h10v10h-10zM994 603h10v10h-10zM1024 603h10v10h-10zM1124 603h50v10h-50zM1184 603h10v10h-10zM994 613h10v10h-10zM1034 613h10v10h-10zM1064 613h20v10h-20zM924 623h70v10h-70zM1024 623h20v10h-20zM1054 623h20v10h-20zM1194 623h10v10h-10zM924 633h10v10h-10zM974 633h30v10h-30zM1024 633h10v10h-10zM1064 633h10v10h-10zM974 643h20v10h-20zM1064 643h10v10h-10zM1074 663h10v10h-10zM1094 683h20v10h-20z"/>
<path fill="#606060" d="M1014 203h60v10h-60zM1014 213h20v10h-20zM1044 213h30v10h-30zM1014 223h20v10h-20zM994 233h10v10h-10zM974 243h10v10h-10zM954 253h10v10h-10zM934 263h10v10h-10zM924 273h10v10h-10zM914 283h20v10h-20zM904 293h20v10h-20zM894 303h20v10h-20zM894 313h20v10h-20zM884 323h20v10h-20zM874 333h30v10h-30zM734 343h10v10h-10zM864 343h30v10h-30zM734 353h20v10h-20zM854 353h40v10h-40zM744 363h10v10h-10zM844 363h40v10h-40zM744 373h30v10h-30zM834 373h40v10h-40zM754 383h30v10h-30zM834 383h40v10h-40zM764 393h30v10h-30zM834 393h40v10h-40zM774 403h90v10h-90zM774 413h90v10h-90zM784 423h80v10h-80zM794 433h70v10h-70zM804 443h50v10h-50zM824 453h20v10h-20zM1004 603h20v10h-20zM1174 603h10v10h-10zM1004 613h30v10h-30zM1084 613h30v10h-30zM994 623h30v10h-30zM1074 623h10v10h-10zM934 633h40v10h-40zM1004 633h20v10h-20zM1074 633h10v10h-10zM1194 633h20v10h-20zM924 643h50v10h-50zM1004 643h20v10h-20zM1074 643h10v10h-10zM1204 643h20v10h-20zM914 653h70v10h-70zM1074 653h10v10h-10zM934 663h30v10h-30zM1084 673h10v10h-10z"/>
<path fill="#5a5a5a" d="M1004 203h10v10h-10zM1004 213h10v10h-10zM974 223h10v10h-10zM1004 223h10v10h-10zM974 233h20v10h-20zM954 243h20v10h-20zM934 253h20v10h-20zM924 263h10v10h-10zM914 273h10v10h-10zM894 283h20v10h-20zM884 293h20v10h-20zM874 303h20v10h-20zM864 313h30v10h-30zM844 323h40v10h-40zM734 333h10v10h-10zM834 333h40v10h-40zM744 343h20v10h-20zM814 343h50v10h-50zM754 353h100v10h-100zM754 363h90v10h-90zM774 373h60v10h-60zM784 383h50v10h-50zM794 393h40v10h-40zM1114 613h40v10h-40zM1184 613h10v10h-10zM1084 623h20v10h-20zM1184 623h10v10h-10zM1184 643h20v10h-20zM1194 653h20v10h-20zM1084 663h10v10h-10zM1094 673h10v10h-10zM1124 673h20v10h-20zM1124 683h20v10h-20zM1124 693h30v10h-30zM1124 703h10v10h-10z"/>
<path fill="#555555" d="M964 203h40v10h-40zM964 213h40v10h-40zM964 223h10v10h-10zM984 223h20v10h-20zM964 233h10v10h-10zM944 243h10v10h-10zM924 253h10v10h-10zM904 263h20v10h-20zM884 273h30v10h-30zM864 283h30v10h-30zM854 293h30v10h-30zM764 303h10v10h-10zM834 303h40v10h-40zM754 313h30v10h-30zM824 313h40v10h-40zM744 323h100v10h-100zM744 333h90v10h-90zM764 343h50v10h-50zM1154 613h30v10h-30zM1104 623h20v10h-20zM1084 633h20v10h-20zM1184 633h10v10h-10zM1084 643h10v10h-10zM1084 653h10v10h-10zM1174 653h20v10h-20zM1094 663h10v10h-10zM1134 663h70v10h-70zM1104 673h20v10h-20zM1144 673h50v10h-50zM1114 683h10v10h-10zM1144 683h40v10h-40zM1154 693h10v10h-10z"/>
<path fill="#505050" d="M944 203h20v10h-20zM924 213h40v10h-40zM924 223h40v10h-40zM894 233h10v10h-10zM924 233h40v10h-40zM894 243h20v10h-20zM924 243h20v10h-20zM874 253h10v10h-10zM894 253h30v10h-30zM814 263h20v10h-20zM854 263h10v10h-10zM874 263h30v10h-30zM794 273h50v10h-50zM854 273h30v10h-30zM784 283h80v10h-80zM774 293h80v10h-80zM774 303h60v10h-60zM784 313h40v10h-40zM1124 623h60v10h-60zM1104 633h30v10h-30zM1164 633h20v10h-20zM1094 643h10v10h-10zM1154 643h30v10h-30zM1094 653h20v10h-20zM1124 653h50v10h-50zM1104 663h30v10h-30z"/>
<path fill="#4a4a4a" d="M914 213h10v10h-10zM884 223h40v10h-40zM864 233h30v10h-30zM904 233h20v10h-20zM844 243h50v10h-50zM914 243h10v10h-10zM834 253h40v10h-40zM884 253h10v10h-10zM834 263h20v10h-20zM864 263h10v10h-10zM844 273h10v10h-10zM1134 633h30v10h-30zM1104 643h50v10h-50zM1114 653h10v10h-10z"/>
</g>
<g filter="url(#blur2)"><path fill="#b6b6b6" fill-opacity=".9" d="M718 512L722.1 516.4L740.2 530.4L766.4 538.5L796.5 538.5L820.7 544.5L844.8 550.5L858 557L860 580L700 585L700 512Z"/></g>
</g>
</g>
<g clip-path="url(#clip-c)"><g filter="url(#cm-c)">
<g filter="url(#blur)">
<path fill="#cfcfcf" d="M345 1138h10v10h-10zM345 1148h10v10h-10z"/>
<path fill="#cacaca" d="M335 1138h10v10h-10zM355 1138h30v10h-30zM355 1148h30v10h-30z"/>
<path fill="#c5c5c5" d="M315 1128h80v10h-80zM315 1138h20v10h-20zM385 1138h10v10h-10zM335 1148h10v10h-10zM385 1148h10v10h-10z"/>
<path fill="#bfbfbf" d="M305 1118h90v10h-90zM305 1128h10v10h-10zM395 1128h10v10h-10zM305 1138h10v10h-10zM395 1138h20v10h-20zM315 1148h20v10h-20z"/>
<path fill="#bababa" d="M305 1108h90v10h-90zM295 1118h10v10h-10zM395 1118h20v10h-20zM295 1128h10v10h-10zM405 1128h20v10h-20zM415 1138h10v10h-10zM395 1148h10v10h-10z"/>
<path fill="#b5b5b5" d="M305 1098h90v10h-90zM295 1108h10v10h-10zM395 1108h20v10h-20zM285 1118h10v10h-10zM415 1118h10v10h-10zM285 1128h10v10h-10zM295 1138h10v10h-10zM305 1148h10v10h-10zM405 1148h20v10h-20zM345 1158h40v10h-40z"/>
<path fill="#afafaf" d="M315 1088h70v10h-70zM295 1098h10v10h-10zM395 1098h20v10h-20zM285 1108h10v10h-10zM415 1108h10v10h-10zM275 1118h10v10h-10zM425 1118h10v10h-10zM275 1128h10v10h-10zM425 1128h10v10h-10zM285 1138h10v10h-10zM425 1138h10v10h-10z"/>
<path fill="#aaaaaa" d="M325 1078h40v10h-40zM295 1088h20v10h-20zM385 1088h20v10h-20zM285 1098h10v10h-10zM415 1098h10v10h-10zM275 1108h10v10h-10zM425 1108h10v10h-10zM275 1138h10v10h-10zM295 1148h10v10h-10zM425 1148h10v10h-10zM335 1158h10v10h-10zM385 1158h10v10h-10z"/>
<path fill="#a5a5a5" d="M105 948h10v10h-10zM105 958h30v10h-30zM105 968h30v10h-30zM105 1048h20v10h-20zM105 1058h20v10h-20zM105 1068h20v10h-20zM105 1078h20v10h-20zM305 1078h20v10h-20zM365 1078h40v10h-40zM105 1088h20v10h-20zM285 1088h10v10h-10zM405 1088h20v10h-20zM275 1098h10v10h-10zM425 1098h10v10h-10zM265 1108h10v10h-10zM265 1118h10v10h-10zM435 1118h10v10h-10zM265 1128h10v10h-10zM435 1128h10v10h-10zM435 1138h10v10h-10z"/>
<path fill="#9f9f9f" d="M105 978h30v10h-30zM105 988h30v10h-30zM105 998h30v10h-30zM105 1008h30v10h-30zM105 1018h30v10h-30zM125 1058h10v10h-10zM305 1068h90v10h-90zM285 1078h20v10h-20zM405 1078h10v10h-10zM275 1088h10v10h-10zM425 1088h10v10h-10zM265 1098h10v10h-10zM255 1108h10v10h-10zM435 1108h10v10h-10zM255 1118h10v10h-10zM255 1128h10v10h-10zM445 1128h10v10h-10zM265 1138h10v10h-10zM285 1148h10v10h-10zM435 1148h10v10h-10z"/>
<path fill="#9a9a9a" d="M135 878h20v10h-20zM575 878h10v10h-10zM125 888h30v10h-30zM565 888h30v10h-30zM115 898h40v10h-40zM565 898h40v10h-40zM115 908h10v10h-10zM575 908h40v10h-40zM115 918h30v10h-30zM595 918h20v10h-20zM105 928h40v10h-40zM585 928h30v10h-30zM105 938h40v10h-40zM585 938h30v10h-30zM115 948h30v10h-30zM585 948h30v10h-30zM135 958h10v10h-10zM105 1028h30v10h-30zM105 1038h30v10h-30zM125 1048h10v10h-10zM315 1058h80v10h-80zM595 1058h20v10h-20zM125 1068h10v10h-10zM295 1068h10v10h-10zM395 1068h20v10h-20zM595 1068h20v10h-20zM125 1078h10v10h-10zM275 1078h10v10h-10zM415 1078h20v10h-20zM595 1078h20v10h-20zM265 1088h10v10h-10zM595 1088h20v10h-20zM245 1098h20v10h-20zM435 1098h10v10h-10zM595 1098h20v10h-20zM245 1108h10v10h-10zM445 1108h10v10h-10zM605 1108h10v10h-10zM245 1118h10v10h-10zM445 1118h10v10h-10zM455 1128h10v10h-10zM445 1138h10v10h-10zM275 1148h10v10h-10zM315 1158h20v10h-20zM395 1158h10v10h-10z"/>
<path fill="#959595" d="M155 888h10v10h-10zM155 898h10v10h-10zM125 908h30v10h-30zM565 908h10v10h-10zM145 918h10v10h-10zM575 918h20v10h-20zM585 958h30v10h-30zM135 968h10v10h-10zM585 968h30v10h-30zM135 978h10v10h-10zM585 978h30v10h-30zM135 988h10v10h-10zM135 998h10v10h-10zM605 1038h10v10h-10zM325 1048h70v10h-70zM595 1048h20v10h-20zM295 1058h20v10h-20zM395 1058h20v10h-20zM135 1068h10v10h-10zM285 1068h10v10h-10zM415 1068h20v10h-20zM265 1078h10v10h-10zM435 1078h10v10h-10zM125 1088h10v10h-10zM255 1088h10v10h-10zM435 1088h10v10h-10zM105 1098h30v10h-30zM445 1098h10v10h-10zM105 1108h30v10h-30zM235 1108h10v10h-10zM455 1108h10v10h-10zM235 1118h10v10h-10zM455 1118h10v10h-10zM245 1128h10v10h-10zM255 1138h10v10h-10zM455 1138h10v10h-10zM445 1148h10v10h-10zM305 1158h10v10h-10zM405 1158h30v10h-30z"/>
<path fill="#8f8f8f" d="M145 868h20v10h-20zM555 868h20v10h-20zM155 878h20v10h-20zM545 878h30v10h-30zM165 888h10v10h-10zM545 888h20v10h-20zM555 898h10v10h-10zM155 908h10v10h-10zM565 918h10v10h-10zM145 928h10v10h-10zM575 928h10v10h-10zM145 938h10v10h-10zM575 938h10v10h-10zM145 948h10v10h-10zM575 948h10v10h-10zM145 958h10v10h-10zM585 988h30v10h-30zM585 998h30v10h-30zM135 1008h10v10h-10zM135 1018h10v10h-10zM335 1038h60v10h-60zM135 1048h10v10h-10zM305 1048h20v10h-20zM395 1048h20v10h-20zM135 1058h10v10h-10zM285 1058h10v10h-10zM415 1058h20v10h-20zM275 1068h10v10h-10zM435 1068h10v10h-10zM585 1068h10v10h-10zM135 1078h10v10h-10zM255 1078h10v10h-10zM445 1078h10v10h-10zM585 1078h10v10h-10zM135 1088h10v10h-10zM245 1088h10v10h-10zM445 1088h10v10h-10zM585 1088h10v10h-10zM235 1098h10v10h-10zM455 1098h10v10h-10zM585 1098h10v10h-10zM465 1108h10v10h-10zM585 1108h20v10h-20zM105 1118h30v10h-30zM465 1118h10v10h-10zM105 1128h30v10h-30zM465 1128h10v10h-10zM105 1138h30v10h-30zM465 1138h20v10h-20zM105 1148h10v10h-10zM265 1148h10v10h-10zM455 1148h20v10h-20zM435 1158h70v10h-70zM455 1168h60v10h-60zM455 1178h50v10h-50zM455 1188h40v10h-40zM455 1198h20v10h-20z"/>
<path fill="#8a8a8a" d="M525 828h20v10h-20zM525 838h30v10h-30zM175 848h10v10h-10zM525 848h40v10h-40zM165 858h30v10h-30zM545 858h20v10h-20zM165 868h30v10h-30zM535 868h20v10h-20zM175 878h10v10h-10zM535 878h10v10h-10zM165 898h10v10h-10zM545 898h10v10h-10zM555 908h10v10h-10zM155 918h10v10h-10zM565 928h10v10h-10zM575 958h10v10h-10zM145 968h10v10h-10zM575 968h10v10h-10zM145 978h10v10h-10zM585 1008h30v10h-30zM135 1028h10v10h-10zM355 1028h30v10h-30zM135 1038h10v10h-10zM315 1038h20v10h-20zM395 1038h20v10h-20zM295 1048h10v10h-10zM415 1048h20v10h-20zM275 1058h10v10h-10zM435 1058h10v10h-10zM585 1058h10v10h-10zM265 1068h10v10h-10zM445 1068h10v10h-10zM455 1088h10v10h-10zM135 1098h10v10h-10zM465 1098h10v10h-10zM135 1108h10v10h-10zM225 1108h10v10h-10zM135 1118h10v10h-10zM225 1118h10v10h-10zM475 1118h10v10h-10zM585 1118h30v10h-30zM235 1128h10v10h-10zM475 1128h10v10h-10zM585 1128h30v10h-30zM245 1138h10v10h-10zM485 1138h10v10h-10zM585 1138h30v10h-30zM475 1148h40v10h-40zM585 1148h30v10h-30zM295 1158h10v10h-10zM505 1158h20v10h-20zM595 1158h20v10h-20zM355 1168h30v10h-30zM445 1168h10v10h-10zM515 1168h10v10h-10zM445 1178h10v10h-10zM505 1178h10v10h-10zM445 1188h10v10h-10zM495 1188h10v10h-10zM445 1198h10v10h-10zM475 1198h20v10h-20zM455 1208h20v10h-20z"/>
<path fill="#858585" d="M185 838h10v10h-10zM185 848h20v10h-20zM195 858h10v10h-10zM525 858h20v10h-20zM525 868h10v10h-10zM185 878h10v10h-10zM175 888h10v10h-10zM535 888h10v10h-10zM165 908h10v10h-10zM545 908h10v10h-10zM555 918h10v10h-10zM155 928h10v10h-10zM155 938h10v10h-10zM565 938h10v10h-10zM155 948h10v10h-10zM565 948h10v10h-10zM155 958h10v10h-10zM565 958h10v10h-10zM575 978h10v10h-10zM145 988h10v10h-10zM145 998h10v10h-10zM585 1018h30v10h-30zM325 1028h30v10h-30zM385 1028h30v10h-30zM585 1028h30v10h-30zM305 1038h10v10h-10zM415 1038h20v10h-20zM585 1038h20v10h-20zM285 1048h10v10h-10zM435 1048h10v10h-10zM585 1048h10v10h-10zM445 1058h10v10h-10zM145 1068h10v10h-10zM255 1068h10v10h-10zM455 1068h10v10h-10zM145 1078h10v10h-10zM245 1078h10v10h-10zM455 1078h10v10h-10zM575 1078h10v10h-10zM145 1088h10v10h-10zM235 1088h10v10h-10zM465 1088h10v10h-10zM575 1088h10v10h-10zM145 1098h10v10h-10zM225 1098h10v10h-10zM475 1098h10v10h-10zM575 1098h10v10h-10zM475 1108h10v10h-10zM575 1108h10v10h-10zM485 1118h10v10h-10zM575 1118h10v10h-10zM135 1128h10v10h-10zM225 1128h10v10h-10zM485 1128h10v10h-10zM575 1128h10v10h-10zM135 1138h10v10h-10zM495 1138h20v10h-20zM575 1138h10v10h-10zM255 1148h10v10h-10zM515 1148h10v10h-10zM575 1148h10v10h-10zM285 1158h10v10h-10zM525 1158h10v10h-10zM575 1158h20v10h-20zM345 1168h10v10h-10zM435 1168h10v10h-10zM525 1168h10v10h-10zM585 1168h20v10h-20zM515 1178h10v10h-10zM505 1188h10v10h-10zM495 1198h10v10h-10zM445 1208h10v10h-10zM475 1208h10v10h-10zM445 1218h20v10h-20z"/>
<path fill="#808080" d="M195 828h10v10h-10zM195 838h20v10h-20zM205 848h10v10h-10zM515 848h10v10h-10zM515 858h10v10h-10zM195 868h10v10h-10zM525 878h10v10h-10zM185 888h10v10h-10zM175 898h10v10h-10zM535 898h10v10h-10zM165 918h10v10h-10zM555 928h10v10h-10zM155 968h10v10h-10zM565 968h10v10h-10zM155 978h10v10h-10zM565 978h10v10h-10zM575 988h10v10h-10zM145 1008h10v10h-10zM335 1018h70v10h-70zM315 1028h10v10h-10zM415 1028h10v10h-10zM295 1038h10v10h-10zM435 1038h10v10h-10zM275 1048h10v10h-10zM445 1048h10v10h-10zM145 1058h10v10h-10zM265 1058h10v10h-10zM455 1058h10v10h-10zM575 1068h10v10h-10zM465 1078h10v10h-10zM475 1088h10v10h-10zM145 1108h10v10h-10zM215 1108h10v10h-10zM485 1108h10v10h-10zM145 1118h10v10h-10zM215 1118h10v10h-10zM495 1118h10v10h-10zM565 1118h10v10h-10zM145 1128h10v10h-10zM495 1128h10v10h-10zM565 1128h10v10h-10zM145 1138h10v10h-10zM235 1138h10v10h-10zM565 1138h10v10h-10zM115 1148h30v10h-30zM525 1148h50v10h-50zM115 1158h30v10h-30zM275 1158h10v10h-10zM535 1158h40v10h-40zM115 1168h10v10h-10zM385 1168h10v10h-10zM425 1168h10v10h-10zM535 1168h50v10h-50zM435 1178h10v10h-10zM525 1178h20v10h-20zM575 1178h20v10h-20zM435 1188h10v10h-10zM515 1188h10v10h-10zM585 1188h10v10h-10zM435 1198h10v10h-10zM505 1198h10v10h-10zM435 1208h10v10h-10zM485 1208h10v10h-10zM435 1218h10v10h-10zM465 1218h20v10h-20zM445 1228h20v10h-20zM345 1258h20v10h-20zM335 1268h40v10h-40zM335 1278h40v10h-40zM325 1288h50v10h-50zM315 1298h60v10h-60zM325 1308h50v10h-50zM335 1318h40v10h-40z"/>
<path fill="#7a7a7a" d="M205 818h20v10h-20zM505 818h30v10h-30zM205 828h20v10h-20zM505 828h20v10h-20zM215 838h10v10h-10zM505 838h20v10h-20zM505 848h10v10h-10zM205 858h10v10h-10zM205 868h10v10h-10zM515 868h10v10h-10zM195 878h10v10h-10zM525 888h10v10h-10zM185 898h10v10h-10zM175 908h10v10h-10zM535 908h10v10h-10zM545 918h10v10h-10zM165 928h10v10h-10zM545 928h10v10h-10zM165 938h10v10h-10zM555 938h10v10h-10zM165 948h10v10h-10zM555 948h10v10h-10zM165 958h10v10h-10zM555 958h10v10h-10zM165 968h10v10h-10zM555 968h10v10h-10zM155 988h10v10h-10zM575 998h10v10h-10zM355 1008h40v10h-40zM145 1018h10v10h-10zM325 1018h10v10h-10zM405 1018h20v10h-20zM145 1028h10v10h-10zM305 1028h10v10h-10zM425 1028h20v10h-20zM145 1038h10v10h-10zM285 1038h10v10h-10zM445 1038h10v10h-10zM145 1048h10v10h-10zM455 1048h10v10h-10zM575 1058h10v10h-10zM245 1068h10v10h-10zM465 1068h10v10h-10zM155 1078h10v10h-10zM235 1078h10v10h-10zM475 1078h10v10h-10zM155 1088h10v10h-10zM225 1088h10v10h-10zM565 1088h10v10h-10zM155 1098h10v10h-10zM215 1098h10v10h-10zM485 1098h10v10h-10zM565 1098h10v10h-10zM155 1108h10v10h-10zM495 1108h10v10h-10zM565 1108h10v10h-10zM155 1118h10v10h-10zM215 1128h10v10h-10zM505 1128h10v10h-10zM555 1128h10v10h-10zM225 1138h10v10h-10zM515 1138h50v10h-50zM145 1148h10v10h-10zM245 1148h10v10h-10zM265 1158h10v10h-10zM335 1168h10v10h-10zM545 1178h30v10h-30zM525 1188h20v10h-20zM515 1198h10v10h-10zM495 1208h10v10h-10zM425 1218h10v10h-10zM485 1218h10v10h-10zM425 1228h20v10h-20zM465 1228h10v10h-10zM435 1238h20v10h-20zM345 1248h20v10h-20zM335 1258h10v10h-10zM365 1258h20v10h-20zM295 1268h40v10h-40zM375 1268h20v10h-20zM285 1278h50v10h-50zM375 1278h20v10h-20zM275 1288h50v10h-50zM375 1288h20v10h-20zM295 1298h20v10h-20zM375 1298h30v10h-30zM375 1308h30v10h-30zM375 1318h20v10h-20z"/>
<path fill="#757575" d="M495 838h10v10h-10zM215 848h10v10h-10zM215 858h10v10h-10zM505 858h10v10h-10zM205 878h10v10h-10zM515 878h10v10h-10zM195 888h10v10h-10zM525 898h10v10h-10zM175 918h10v10h-10zM535 918h10v10h-10zM175 928h10v10h-10zM545 938h10v10h-10zM545 948h10v10h-10zM165 978h10v10h-10zM555 978h10v10h-10zM565 988h10v10h-10zM155 998h10v10h-10zM335 1008h20v10h-20zM395 1008h20v10h-20zM575 1008h10v10h-10zM315 1018h10v10h-10zM425 1018h10v10h-10zM575 1018h10v10h-10zM295 1028h10v10h-10zM445 1028h10v10h-10zM275 1038h10v10h-10zM455 1038h10v10h-10zM575 1038h10v10h-10zM265 1048h10v10h-10zM575 1048h10v10h-10zM255 1058h10v10h-10zM465 1058h10v10h-10zM155 1068h10v10h-10zM475 1068h10v10h-10zM565 1078h10v10h-10zM485 1088h10v10h-10zM495 1098h10v10h-10zM555 1098h10v10h-10zM555 1108h10v10h-10zM505 1118h10v10h-10zM555 1118h10v10h-10zM155 1128h10v10h-10zM515 1128h10v10h-10zM545 1128h10v10h-10zM155 1138h10v10h-10zM215 1138h10v10h-10zM155 1148h10v10h-10zM235 1148h10v10h-10zM145 1158h10v10h-10zM245 1158h20v10h-20zM415 1168h10v10h-10zM245 1188h40v10h-40zM545 1188h40v10h-40zM255 1198h30v10h-30zM425 1198h10v10h-10zM525 1198h10v10h-10zM565 1198h20v10h-20zM265 1208h20v10h-20zM425 1208h10v10h-10zM505 1208h10v10h-10zM265 1218h20v10h-20zM275 1228h20v10h-20zM415 1228h10v10h-10zM475 1228h10v10h-10zM275 1238h30v10h-30zM415 1238h20v10h-20zM455 1238h20v10h-20zM275 1248h40v10h-40zM335 1248h10v10h-10zM365 1248h30v10h-30zM405 1248h50v10h-50zM265 1258h70v10h-70zM385 1258h50v10h-50zM265 1268h30v10h-30zM395 1268h30v10h-30zM265 1278h20v10h-20zM395 1278h30v10h-30zM265 1288h10v10h-10zM395 1288h30v10h-30zM405 1298h20v10h-20z"/>
<path fill="#707070" d="M485 798h10v10h-10zM215 808h30v10h-30zM485 808h30v10h-30zM225 818h20v10h-20zM485 818h20v10h-20zM225 828h20v10h-20zM485 828h20v10h-20zM225 838h10v10h-10zM225 848h10v10h-10zM495 848h10v10h-10zM215 868h10v10h-10zM505 868h10v10h-10zM205 888h10v10h-10zM515 888h10v10h-10zM195 898h10v10h-10zM185 908h10v10h-10zM525 908h10v10h-10zM185 918h10v10h-10zM535 928h10v10h-10zM175 938h10v10h-10zM175 948h10v10h-10zM175 958h10v10h-10zM545 958h10v10h-10zM175 968h10v10h-10zM545 968h10v10h-10zM175 978h10v10h-10zM545 978h10v10h-10zM165 988h10v10h-10zM555 988h10v10h-10zM345 998h60v10h-60zM155 1008h10v10h-10zM325 1008h10v10h-10zM415 1008h10v10h-10zM305 1018h10v10h-10zM435 1018h10v10h-10zM285 1028h10v10h-10zM455 1028h10v10h-10zM575 1028h10v10h-10zM465 1048h10v10h-10zM155 1058h10v10h-10zM245 1058h10v10h-10zM475 1058h10v10h-10zM235 1068h10v10h-10zM565 1068h10v10h-10zM225 1078h10v10h-10zM485 1078h10v10h-10zM165 1088h10v10h-10zM215 1088h10v10h-10zM495 1088h10v10h-10zM555 1088h10v10h-10zM165 1098h10v10h-10zM205 1098h10v10h-10zM505 1098h10v10h-10zM165 1108h10v10h-10zM205 1108h10v10h-10zM505 1108h10v10h-10zM545 1108h10v10h-10zM165 1118h10v10h-10zM205 1118h10v10h-10zM515 1118h10v10h-10zM535 1118h20v10h-20zM165 1128h10v10h-10zM205 1128h10v10h-10zM525 1128h20v10h-20zM165 1138h10v10h-10zM225 1148h10v10h-10zM155 1158h10v10h-10zM235 1158h10v10h-10zM125 1168h30v10h-30zM245 1168h70v10h-70zM395 1168h10v10h-10zM125 1178h30v10h-30zM235 1178h50v10h-50zM425 1178h10v10h-10zM135 1188h10v10h-10zM235 1188h10v10h-10zM285 1188h10v10h-10zM425 1188h10v10h-10zM245 1198h10v10h-10zM285 1198h10v10h-10zM535 1198h30v10h-30zM255 1208h10v10h-10zM285 1208h10v10h-10zM415 1208h10v10h-10zM515 1208h10v10h-10zM555 1208h20v10h-20zM255 1218h10v10h-10zM285 1218h20v10h-20zM415 1218h10v10h-10zM495 1218h10v10h-10zM565 1218h10v10h-10zM265 1228h10v10h-10zM295 1228h20v10h-20zM405 1228h10v10h-10zM485 1228h10v10h-10zM265 1238h10v10h-10zM305 1238h20v10h-20zM345 1238h20v10h-20zM395 1238h20v10h-20zM475 1238h10v10h-10zM255 1248h20v10h-20zM315 1248h20v10h-20zM395 1248h10v10h-10zM455 1248h10v10h-10zM255 1258h10v10h-10zM435 1258h20v10h-20zM255 1268h10v10h-10zM425 1268h20v10h-20zM255 1278h10v10h-10zM425 1278h20v10h-20zM255 1288h10v10h-10zM425 1288h20v10h-20zM425 1298h10v10h-10z"/>
<path fill="#6a6a6a" d="M475 808h10v10h-10zM475 818h10v10h-10zM475 828h10v10h-10zM235 838h10v10h-10zM485 838h10v10h-10zM225 858h10v10h-10zM495 858h10v10h-10zM495 868h10v10h-10zM215 878h10v10h-10zM505 878h10v10h-10zM515 898h10v10h-10zM195 908h10v10h-10zM525 918h10v10h-10zM185 928h10v10h-10zM185 938h10v10h-10zM535 938h10v10h-10zM185 948h10v10h-10zM535 948h10v10h-10zM185 958h10v10h-10zM535 958h10v10h-10zM185 968h10v10h-10zM535 968h10v10h-10zM185 978h10v10h-10zM365 978h10v10h-10zM175 988h10v10h-10zM345 988h50v10h-50zM545 988h10v10h-10zM325 998h20v10h-20zM405 998h10v10h-10zM565 998h10v10h-10zM315 1008h10v10h-10zM425 1008h10v10h-10zM155 1018h10v10h-10zM295 1018h10v10h-10zM445 1018h10v10h-10zM155 1028h10v10h-10zM275 1028h10v10h-10zM155 1038h10v10h-10zM265 1038h10v10h-10zM465 1038h10v10h-10zM155 1048h10v10h-10zM255 1048h10v10h-10zM475 1048h10v10h-10zM565 1058h10v10h-10zM165 1068h10v10h-10zM485 1068h10v10h-10zM555 1068h10v10h-10zM165 1078h10v10h-10zM495 1078h10v10h-10zM555 1078h10v10h-10zM205 1088h10v10h-10zM505 1088h10v10h-10zM545 1088h10v10h-10zM175 1098h10v10h-10zM515 1098h10v10h-10zM545 1098h10v10h-10zM175 1108h10v10h-10zM195 1108h10v10h-10zM515 1108h30v10h-30zM175 1118h10v10h-10zM195 1118h10v10h-10zM525 1118h10v10h-10zM175 1128h10v10h-10zM175 1138h10v10h-10zM205 1138h10v10h-10zM165 1148h10v10h-10zM215 1148h10v10h-10zM165 1158h10v10h-10zM225 1158h10v10h-10zM155 1168h10v10h-10zM225 1168h20v10h-20zM315 1168h20v10h-20zM405 1168h10v10h-10zM285 1178h10v10h-10zM235 1198h10v10h-10zM245 1208h10v10h-10zM295 1208h10v10h-10zM525 1208h30v10h-30zM245 1218h10v10h-10zM305 1218h10v10h-10zM405 1218h10v10h-10zM505 1218h20v10h-20zM255 1228h10v10h-10zM315 1228h10v10h-10zM395 1228h10v10h-10zM495 1228h10v10h-10zM255 1238h10v10h-10zM325 1238h20v10h-20zM365 1238h30v10h-30zM485 1238h10v10h-10zM465 1248h10v10h-10zM245 1258h10v10h-10zM455 1258h10v10h-10zM245 1268h10v10h-10zM445 1268h10v10h-10zM245 1278h10v10h-10zM445 1278h10v10h-10zM245 1288h10v10h-10zM445 1288h10v10h-10zM445 1298h10v10h-10z"/>
<path fill="#656565" d="M265 778h30v10h-30zM305 778h30v10h-30zM395 778h40v10h-40zM255 788h40v10h-40zM315 788h20v10h-20zM395 788h50v10h-50zM235 798h40v10h-40zM285 798h10v10h-10zM395 798h40v10h-40zM245 808h30v10h-30zM245 818h20v10h-20zM245 828h10v10h-10zM475 838h10v10h-10zM235 848h10v10h-10zM485 848h10v10h-10zM485 858h10v10h-10zM225 868h10v10h-10zM225 878h10v10h-10zM495 878h10v10h-10zM215 888h10v10h-10zM505 888h10v10h-10zM205 898h10v10h-10zM515 908h10v10h-10zM195 918h10v10h-10zM525 928h10v10h-10zM525 938h10v10h-10zM525 948h10v10h-10zM525 958h10v10h-10zM365 968h10v10h-10zM525 968h10v10h-10zM345 978h20v10h-20zM375 978h20v10h-20zM535 978h10v10h-10zM185 988h10v10h-10zM335 988h10v10h-10zM395 988h20v10h-20zM535 988h10v10h-10zM165 998h10v10h-10zM315 998h10v10h-10zM415 998h20v10h-20zM555 998h10v10h-10zM305 1008h10v10h-10zM435 1008h20v10h-20zM565 1008h10v10h-10zM275 1018h20v10h-20zM455 1018h20v10h-20zM565 1018h10v10h-10zM265 1028h10v10h-10zM465 1028h10v10h-10zM565 1028h10v10h-10zM475 1038h10v10h-10zM565 1038h10v10h-10zM485 1048h10v10h-10zM565 1048h10v10h-10zM165 1058h10v10h-10zM235 1058h10v10h-10zM485 1058h10v10h-10zM555 1058h10v10h-10zM225 1068h10v10h-10zM495 1068h10v10h-10zM175 1078h10v10h-10zM215 1078h10v10h-10zM505 1078h10v10h-10zM545 1078h10v10h-10zM175 1088h30v10h-30zM515 1088h30v10h-30zM185 1098h20v10h-20zM525 1098h20v10h-20zM185 1108h10v10h-10zM185 1118h10v10h-10zM185 1128h20v10h-20zM185 1138h20v10h-20zM175 1148h40v10h-40zM175 1158h10v10h-10zM205 1158h20v10h-20zM165 1168h10v10h-10zM215 1168h10v10h-10zM155 1178h10v10h-10zM225 1178h10v10h-10zM145 1188h20v10h-20zM225 1188h10v10h-10zM135 1198h10v10h-10zM225 1198h10v10h-10zM295 1198h10v10h-10zM415 1198h10v10h-10zM235 1208h10v10h-10zM305 1208h10v10h-10zM405 1208h10v10h-10zM315 1218h10v10h-10zM525 1218h40v10h-40zM245 1228h10v10h-10zM325 1228h20v10h-20zM385 1228h10v10h-10zM505 1228h10v10h-10zM545 1228h20v10h-20zM245 1238h10v10h-10zM495 1238h10v10h-10zM245 1248h10v10h-10zM475 1248h20v10h-20zM465 1258h10v10h-10zM455 1268h10v10h-10zM455 1278h10v10h-10zM455 1288h10v10h-10zM455 1298h10v10h-10z"/>
<path fill="#606060" d="M295 778h10v10h-10zM365 778h30v10h-30zM295 788h20v10h-20zM365 788h30v10h-30zM455 788h10v10h-10zM275 798h10v10h-10zM295 798h30v10h-30zM375 798h20v10h-20zM455 798h30v10h-30zM275 808h10v10h-10zM455 808h20v10h-20zM265 818h10v10h-10zM455 818h20v10h-20zM255 828h10v10h-10zM465 828h10v10h-10zM245 838h10v10h-10zM245 848h10v10h-10zM475 848h10v10h-10zM235 858h10v10h-10zM235 868h10v10h-10zM485 868h10v10h-10zM225 888h10v10h-10zM495 888h10v10h-10zM215 898h10v10h-10zM505 898h10v10h-10zM205 908h10v10h-10zM515 918h10v10h-10zM195 928h10v10h-10zM195 938h10v10h-10zM195 948h10v10h-10zM195 958h10v10h-10zM515 958h10v10h-10zM195 968h10v10h-10zM345 968h20v10h-20zM375 968h20v10h-20zM515 968h10v10h-10zM195 978h10v10h-10zM335 978h10v10h-10zM395 978h20v10h-20zM515 978h20v10h-20zM195 988h10v10h-10zM325 988h10v10h-10zM415 988h10v10h-10zM525 988h10v10h-10zM175 998h20v10h-20zM305 998h10v10h-10zM435 998h20v10h-20zM535 998h20v10h-20zM165 1008h10v10h-10zM285 1008h20v10h-20zM455 1008h20v10h-20zM555 1008h10v10h-10zM165 1018h10v10h-10zM475 1018h10v10h-10zM555 1018h10v10h-10zM165 1028h10v10h-10zM475 1028h20v10h-20zM255 1038h10v10h-10zM485 1038h10v10h-10zM165 1048h10v10h-10zM245 1048h10v10h-10zM495 1048h10v10h-10zM555 1048h10v10h-10zM225 1058h10v10h-10zM495 1058h10v10h-10zM175 1068h10v10h-10zM215 1068h10v10h-10zM505 1068h10v10h-10zM545 1068h10v10h-10zM185 1078h30v10h-30zM515 1078h30v10h-30zM185 1158h20v10h-20zM175 1168h40v10h-40zM165 1178h20v10h-20zM205 1178h20v10h-20zM295 1178h10v10h-10zM345 1178h40v10h-40zM415 1178h10v10h-10zM165 1188h10v10h-10zM215 1188h10v10h-10zM295 1188h10v10h-10zM415 1188h10v10h-10zM225 1208h10v10h-10zM235 1218h10v10h-10zM325 1218h10v10h-10zM395 1218h10v10h-10zM235 1228h10v10h-10zM345 1228h40v10h-40zM515 1228h30v10h-30zM505 1238h10v10h-10zM535 1238h20v10h-20zM235 1248h10v10h-10zM495 1248h10v10h-10zM235 1258h10v10h-10zM475 1258h20v10h-20zM235 1268h10v10h-10zM465 1268h30v10h-30zM235 1278h10v10h-10zM465 1278h30v10h-30zM235 1288h10v10h-10zM465 1288h30v10h-30zM465 1298h10v10h-10z"/>
<path fill="#5a5a5a" d="M335 778h20v10h-20zM335 788h30v10h-30zM445 788h10v10h-10zM325 798h30v10h-30zM435 798h20v10h-20zM285 808h10v10h-10zM385 808h70v10h-70zM445 818h10v10h-10zM455 828h10v10h-10zM255 838h10v10h-10zM465 838h10v10h-10zM245 858h10v10h-10zM475 858h10v10h-10zM245 868h10v10h-10zM475 868h10v10h-10zM235 878h10v10h-10zM485 878h10v10h-10zM235 888h10v10h-10zM485 888h10v10h-10zM225 898h10v10h-10zM495 898h10v10h-10zM215 908h10v10h-10zM505 908h10v10h-10zM205 918h10v10h-10zM205 928h10v10h-10zM515 928h10v10h-10zM205 938h10v10h-10zM515 938h10v10h-10zM205 948h10v10h-10zM515 948h10v10h-10zM205 958h10v10h-10zM345 958h50v10h-50zM505 958h10v10h-10zM205 968h10v10h-10zM335 968h10v10h-10zM395 968h20v10h-20zM505 968h10v10h-10zM205 978h10v10h-10zM325 978h10v10h-10zM415 978h20v10h-20zM505 978h10v10h-10zM205 988h10v10h-10zM315 988h10v10h-10zM425 988h30v10h-30zM495 988h30v10h-30zM195 998h10v10h-10zM295 998h10v10h-10zM455 998h80v10h-80zM175 1008h20v10h-20zM275 1008h10v10h-10zM475 1008h80v10h-80zM175 1018h10v10h-10zM265 1018h10v10h-10zM485 1018h50v10h-50zM545 1018h10v10h-10zM255 1028h10v10h-10zM495 1028h20v10h-20zM555 1028h10v10h-10zM165 1038h10v10h-10zM245 1038h10v10h-10zM495 1038h20v10h-20zM555 1038h10v10h-10zM235 1048h10v10h-10zM505 1048h10v10h-10zM545 1048h10v10h-10zM175 1058h10v10h-10zM505 1058h20v10h-20zM535 1058h20v10h-20zM185 1068h10v10h-10zM205 1068h10v10h-10zM515 1068h30v10h-30zM185 1178h20v10h-20zM385 1178h10v10h-10zM175 1188h40v10h-40zM145 1198h40v10h-40zM205 1198h20v10h-20zM305 1198h10v10h-10zM405 1198h10v10h-10zM145 1208h30v10h-30zM215 1208h10v10h-10zM315 1208h10v10h-10zM395 1208h10v10h-10zM155 1218h10v10h-10zM225 1218h10v10h-10zM335 1218h10v10h-10zM385 1218h10v10h-10zM235 1238h10v10h-10zM515 1238h20v10h-20zM225 1248h10v10h-10zM505 1248h40v10h-40zM225 1258h10v10h-10zM495 1258h40v10h-40zM215 1268h20v10h-20zM495 1268h30v10h-30zM205 1278h30v10h-30zM495 1278h20v10h-20zM225 1288h10v10h-10zM495 1288h10v10h-10z"/>
<path fill="#555555" d="M365 798h10v10h-10zM295 808h30v10h-30zM365 808h20v10h-20zM275 818h10v10h-10zM435 818h10v10h-10zM265 828h10v10h-10zM445 828h10v10h-10zM265 838h10v10h-10zM455 838h10v10h-10zM255 848h10v10h-10zM465 848h10v10h-10zM255 858h10v10h-10zM465 858h10v10h-10zM245 878h10v10h-10zM475 878h10v10h-10zM245 888h10v10h-10zM475 888h10v10h-10zM235 898h10v10h-10zM485 898h10v10h-10zM225 908h10v10h-10zM495 908h10v10h-10zM215 918h10v10h-10zM495 918h20v10h-20zM215 928h10v10h-10zM505 928h10v10h-10zM215 938h10v10h-10zM505 938h10v10h-10zM215 948h10v10h-10zM345 948h50v10h-50zM495 948h20v10h-20zM215 958h10v10h-10zM325 958h20v10h-20zM395 958h30v10h-30zM485 958h20v10h-20zM215 968h20v10h-20zM315 968h20v10h-20zM415 968h20v10h-20zM485 968h20v10h-20zM215 978h20v10h-20zM305 978h20v10h-20zM435 978h70v10h-70zM215 988h20v10h-20zM295 988h20v10h-20zM455 988h40v10h-40zM205 998h20v10h-20zM265 998h30v10h-30zM195 1008h30v10h-30zM255 1008h20v10h-20zM185 1018h30v10h-30zM245 1018h20v10h-20zM535 1018h10v10h-10zM175 1028h10v10h-10zM245 1028h10v10h-10zM515 1028h40v10h-40zM175 1038h10v10h-10zM235 1038h10v10h-10zM515 1038h40v10h-40zM175 1048h10v10h-10zM215 1048h20v10h-20zM515 1048h30v10h-30zM185 1058h10v10h-10zM205 1058h20v10h-20zM525 1058h10v10h-10zM195 1068h10v10h-10zM305 1178h10v10h-10zM335 1178h10v10h-10zM305 1188h10v10h-10zM185 1198h20v10h-20zM175 1208h40v10h-40zM325 1208h10v10h-10zM165 1218h60v10h-60zM345 1218h40v10h-40zM155 1228h10v10h-10zM215 1228h20v10h-20zM215 1238h20v10h-20zM195 1248h30v10h-30zM185 1258h40v10h-40zM195 1268h20v10h-20z"/>
<path fill="#505050" d="M355 798h10v10h-10zM325 808h40v10h-40zM285 818h20v10h-20zM365 818h70v10h-70zM275 828h10v10h-10zM435 828h10v10h-10zM445 838h10v10h-10zM265 848h10v10h-10zM455 848h10v10h-10zM265 858h10v10h-10zM455 858h10v10h-10zM255 868h10v10h-10zM465 868h10v10h-10zM255 878h10v10h-10zM465 878h10v10h-10zM255 888h10v10h-10zM465 888h10v10h-10zM245 898h20v10h-20zM465 898h20v10h-20zM235 908h20v10h-20zM475 908h20v10h-20zM225 918h20v10h-20zM475 918h20v10h-20zM225 928h10v10h-10zM475 928h30v10h-30zM225 938h20v10h-20zM315 938h120v10h-120zM475 938h30v10h-30zM225 948h20v10h-20zM295 948h50v10h-50zM395 948h100v10h-100zM225 958h30v10h-30zM295 958h30v10h-30zM425 958h60v10h-60zM235 968h80v10h-80zM435 968h50v10h-50zM235 978h70v10h-70zM235 988h60v10h-60zM225 998h40v10h-40zM225 1008h30v10h-30zM215 1018h30v10h-30zM185 1028h60v10h-60zM185 1038h50v10h-50zM185 1048h30v10h-30zM195 1058h10v10h-10zM395 1178h20v10h-20zM405 1188h10v10h-10zM315 1198h10v10h-10zM395 1198h10v10h-10zM335 1208h10v10h-10zM385 1208h10v10h-10zM165 1228h50v10h-50zM165 1238h50v10h-50zM175 1248h20v10h-20z"/>
<path fill="#4a4a4a" d="M305 818h60v10h-60zM285 828h10v10h-10zM365 828h40v10h-40zM425 828h10v10h-10zM275 838h10v10h-10zM435 838h10v10h-10zM275 848h10v10h-10zM445 848h10v10h-10zM445 858h10v10h-10zM265 868h10v10h-10zM455 868h10v10h-10zM265 878h20v10h-20zM455 878h10v10h-10zM265 888h20v10h-20zM445 888h20v10h-20zM265 898h30v10h-30zM445 898h20v10h-20zM255 908h60v10h-60zM435 908h40v10h-40zM245 918h230v10h-230zM235 928h240v10h-240zM245 938h70v10h-70zM435 938h40v10h-40zM245 948h50v10h-50zM255 958h40v10h-40zM315 1178h20v10h-20zM315 1188h10v10h-10zM335 1188h20v10h-20zM375 1188h30v10h-30zM325 1198h20v10h-20zM385 1198h10v10h-10zM345 1208h40v10h-40z"/>
<path fill="#454545" d="M295 828h20v10h-20zM345 828h20v10h-20zM405 828h20v10h-20zM285 838h10v10h-10zM355 838h50v10h-50zM425 838h10v10h-10zM285 848h10v10h-10zM355 848h40v10h-40zM435 848h10v10h-10zM275 858h20v10h-20zM355 858h40v10h-40zM435 858h10v10h-10zM275 868h20v10h-20zM345 868h50v10h-50zM435 868h20v10h-20zM285 878h20v10h-20zM335 878h70v10h-70zM435 878h20v10h-20zM285 888h160v10h-160zM295 898h150v10h-150zM315 908h120v10h-120zM325 1188h10v10h-10zM355 1188h20v10h-20zM345 1198h10v10h-10zM375 1198h10v10h-10z"/>
<path fill="#404040" d="M315 828h30v10h-30zM295 838h20v10h-20zM335 838h20v10h-20zM405 838h20v10h-20zM295 848h10v10h-10zM335 848h20v10h-20zM395 848h40v10h-40zM295 858h10v10h-10zM335 858h20v10h-20zM395 858h40v10h-40zM295 868h50v10h-50zM395 868h40v10h-40zM305 878h30v10h-30zM405 878h30v10h-30zM355 1198h20v10h-20z"/>
<path fill="#3a3a3a" d="M315 838h20v10h-20zM305 848h30v10h-30zM305 858h30v10h-30z"/>
</g>
<path fill="#8f8f8f" d="M192.8 1236.5L202.4 1242.2L206.3 1251.9L214 1259.6L229.4 1265.3L244.8 1270.2L260.2 1273L272 1272.5L268 1264L250 1260L235 1257L222 1250L212 1244L204 1236L196 1230Z"/><g filter="url(#blur2)"><path fill="url(#gl-c)" d="M205 1128 L228 1137 L275 1148 L309 1157 L309 1200 L205 1200 Z"/><path fill="url(#gr-c)" d="M415 1159 L439 1150 L470 1141 L492 1134 L530 1131 L530 1200 L415 1200 Z"/><path fill="#4f4f4f" d="M308 1157 L330 1157 L345 1165 L352 1168 L360 1161 L364 1159 L368 1163 L376 1161 L382 1159 L400 1159 L415 1159 L416 1200 L412 1215 L395 1223 L380 1230 L360 1232 L340 1229 L325 1223 L310 1212 L308 1180 Z"/></g>
</g>
<path d="M362.6 830V1158" stroke="#900000" stroke-opacity="0.3" stroke-width="1.2" fill="none"/><path fill="#000" d="M241.1 1244.1L247.9 1246.5L249.9 1250.6L249.9 1255.4L246.3 1255.4L241.5 1250.6Z"/><path d="M240.3 1259L250 1259.8M258 1259.8L265.6 1258.6L271.3 1255.4L279.3 1251.4" stroke="#000" stroke-width="1.3" fill="none"/><path fill="#000" d="M268.4 1255h3.3v2.4h-3.3z"/><path fill="#ffff60" d="M207.3 1250.6h6.8v4.8h-6.8z"/><path d="M222.2 1251.4L229.4 1255.4" stroke="#ffffc0" stroke-width="2" fill="none"/>
</g>
<g clip-path="url(#clip-d)"><g filter="url(#cm-d)">
<g filter="url(#blur)">
<path fill="#dadada" d="M963 1091h10v10h-10z"/>
<path fill="#d4d4d4" d="M963 1041h20v10h-20zM933 1051h70v10h-70zM933 1061h80v10h-80zM923 1071h100v10h-100zM923 1081h100v10h-100zM923 1091h40v10h-40zM973 1091h40v10h-40zM923 1101h90v10h-90zM933 1111h80v10h-80zM933 1121h70v10h-70zM943 1131h60v10h-60zM943 1141h50v10h-50zM953 1151h30v10h-30z"/>
<path fill="#cfcfcf" d="M953 1021h50v10h-50zM923 1031h100v10h-100zM913 1041h50v10h-50zM983 1041h50v10h-50zM903 1051h30v10h-30zM1003 1051h30v10h-30zM903 1061h30v10h-30zM1013 1061h30v10h-30zM903 1071h20v10h-20zM1023 1071h20v10h-20zM903 1081h20v10h-20zM1023 1081h20v10h-20zM903 1091h20v10h-20zM1013 1091h30v10h-30zM903 1101h20v10h-20zM1013 1101h30v10h-30zM903 1111h30v10h-30zM1013 1111h20v10h-20zM903 1121h30v10h-30zM1003 1121h30v10h-30zM913 1131h30v10h-30zM1003 1131h30v10h-30zM913 1141h30v10h-30zM993 1141h40v10h-40zM923 1151h30v10h-30zM983 1151h50v10h-50zM923 1161h100v10h-100zM923 1171h90v10h-90zM923 1181h90v10h-90zM933 1191h70v10h-70zM963 1201h30v10h-30z"/>
<path fill="#cacaca" d="M963 1001h40v10h-40zM923 1011h110v10h-110zM903 1021h50v10h-50zM1003 1021h40v10h-40zM893 1031h30v10h-30zM1023 1031h30v10h-30zM883 1041h30v10h-30zM1033 1041h20v10h-20zM883 1051h20v10h-20zM1033 1051h20v10h-20zM883 1061h20v10h-20zM1043 1061h20v10h-20zM883 1071h20v10h-20zM1043 1071h20v10h-20zM883 1081h20v10h-20zM1043 1081h20v10h-20zM883 1091h20v10h-20zM1043 1091h20v10h-20zM883 1101h20v10h-20zM1043 1101h20v10h-20zM883 1111h20v10h-20zM1033 1111h40v10h-40zM883 1121h20v10h-20zM1033 1121h40v10h-40zM883 1131h30v10h-30zM1033 1131h30v10h-30zM893 1141h20v10h-20zM1033 1141h30v10h-30zM893 1151h30v10h-30zM1033 1151h30v10h-30zM893 1161h30v10h-30zM1023 1161h40v10h-40zM893 1171h30v10h-30zM1013 1171h40v10h-40zM893 1181h30v10h-30zM1013 1181h30v10h-30zM893 1191h40v10h-40zM1003 1191h40v10h-40zM893 1201h70v10h-70zM993 1201h30v10h-30zM913 1211h10v10h-10zM993 1211h20v10h-20z"/>
<path fill="#c5c5c5" d="M943 991h90v10h-90zM903 1001h60v10h-60zM1003 1001h50v10h-50zM883 1011h40v10h-40zM1033 1011h30v10h-30zM873 1021h30v10h-30zM1043 1021h30v10h-30zM873 1031h20v10h-20zM1053 1031h20v10h-20zM863 1041h20v10h-20zM1053 1041h20v10h-20zM863 1051h20v10h-20zM1053 1051h30v10h-30zM863 1061h20v10h-20zM1063 1061h20v10h-20zM863 1071h20v10h-20zM1063 1071h20v10h-20zM863 1081h20v10h-20zM1063 1081h30v10h-30zM853 1091h30v10h-30zM1063 1091h30v10h-30zM853 1101h30v10h-30zM1063 1101h30v10h-30zM863 1111h20v10h-20zM1073 1111h20v10h-20zM863 1121h20v10h-20zM1073 1121h20v10h-20zM863 1131h20v10h-20zM1063 1131h20v10h-20zM863 1141h30v10h-30zM1063 1141h20v10h-20zM873 1151h20v10h-20zM1063 1151h10v10h-10zM873 1161h20v10h-20zM1063 1161h10v10h-10zM883 1171h10v10h-10zM1053 1171h20v10h-20zM883 1181h10v10h-10zM1043 1181h20v10h-20zM883 1191h10v10h-10zM1043 1191h10v10h-10zM883 1201h10v10h-10zM1023 1201h20v10h-20zM893 1211h20v10h-20zM923 1211h70v10h-70zM1013 1211h20v10h-20zM913 1221h30v10h-30zM1003 1221h10v10h-10z"/>
<path fill="#bfbfbf" d="M963 971h60v10h-60zM923 981h130v10h-130zM893 991h50v10h-50zM1033 991h40v10h-40zM873 1001h30v10h-30zM1053 1001h30v10h-30zM853 1011h30v10h-30zM1063 1011h30v10h-30zM843 1021h30v10h-30zM1073 1021h20v10h-20zM843 1031h30v10h-30zM1073 1031h30v10h-30zM843 1041h20v10h-20zM1073 1041h30v10h-30zM833 1051h30v10h-30zM1083 1051h20v10h-20zM833 1061h30v10h-30zM1083 1061h20v10h-20zM833 1071h30v10h-30zM1083 1071h30v10h-30zM833 1081h30v10h-30zM1093 1081h20v10h-20zM833 1091h20v10h-20zM1093 1091h20v10h-20zM833 1101h20v10h-20zM1093 1101h20v10h-20zM833 1111h30v10h-30zM1093 1111h20v10h-20zM833 1121h30v10h-30zM1093 1121h20v10h-20zM833 1131h30v10h-30zM1083 1131h20v10h-20zM843 1141h20v10h-20zM1083 1141h10v10h-10zM843 1151h30v10h-30zM1073 1151h10v10h-10zM843 1161h30v10h-30zM1073 1161h10v10h-10zM853 1171h30v10h-30zM853 1181h30v10h-30zM1063 1181h10v10h-10zM863 1191h20v10h-20zM1053 1191h10v10h-10zM1043 1201h10v10h-10zM1033 1211h10v10h-10zM903 1221h10v10h-10zM943 1221h10v10h-10zM993 1221h10v10h-10zM1013 1221h10v10h-10z"/>
<path fill="#bababa" d="M963 961h70v10h-70zM923 971h40v10h-40zM1023 971h40v10h-40zM873 981h50v10h-50zM1053 981h30v10h-30zM853 991h40v10h-40zM1073 991h30v10h-30zM833 1001h40v10h-40zM1083 1001h30v10h-30zM823 1011h30v10h-30zM1093 1011h20v10h-20zM823 1021h20v10h-20zM1093 1021h30v10h-30zM813 1031h30v10h-30zM1103 1031h20v10h-20zM813 1041h30v10h-30zM1103 1041h30v10h-30zM813 1051h20v10h-20zM1103 1051h30v10h-30zM803 1061h30v10h-30zM1103 1061h30v10h-30zM803 1071h30v10h-30zM1113 1071h20v10h-20zM803 1081h30v10h-30zM1113 1081h30v10h-30zM803 1091h30v10h-30zM1113 1091h30v10h-30zM803 1101h30v10h-30zM1113 1101h40v10h-40zM803 1111h30v10h-30zM1113 1111h20v10h-20zM803 1121h30v10h-30zM1113 1121h10v10h-10zM813 1131h20v10h-20zM1103 1131h10v10h-10zM813 1141h30v10h-30zM1093 1141h10v10h-10zM823 1151h20v10h-20zM1083 1151h10v10h-10zM823 1161h20v10h-20zM1083 1161h10v10h-10zM833 1171h20v10h-20zM1073 1171h10v10h-10zM843 1181h10v10h-10zM1073 1181h10v10h-10zM843 1191h20v10h-20zM1063 1191h10v10h-10zM873 1201h10v10h-10zM1053 1201h10v10h-10zM883 1211h10v10h-10zM1043 1211h10v10h-10zM893 1221h10v10h-10zM953 1221h10v10h-10zM983 1221h10v10h-10zM1023 1221h20v10h-20zM923 1231h20v10h-20zM1003 1231h10v10h-10z"/>
<path fill="#b5b5b5" d="M963 951h70v10h-70zM903 961h60v10h-60zM1033 961h40v10h-40zM853 971h70v10h-70zM1063 971h40v10h-40zM723 981h40v10h-40zM833 981h40v10h-40zM1083 981h40v10h-40zM723 991h50v10h-50zM813 991h40v10h-40zM1103 991h30v10h-30zM763 1001h70v10h-70zM1113 1001h30v10h-30zM773 1011h50v10h-50zM1113 1011h40v10h-40zM783 1021h40v10h-40zM1123 1021h30v10h-30zM783 1031h30v10h-30zM1123 1031h40v10h-40zM783 1041h30v10h-30zM1133 1041h30v10h-30zM783 1051h30v10h-30zM1133 1051h40v10h-40zM783 1061h20v10h-20zM1133 1061h40v10h-40zM773 1071h30v10h-30zM1133 1071h50v10h-50zM773 1081h30v10h-30zM1143 1081h40v10h-40zM773 1091h30v10h-30zM1143 1091h40v10h-40zM773 1101h30v10h-30zM1153 1101h30v10h-30zM783 1111h20v10h-20zM1133 1111h40v10h-40zM783 1121h20v10h-20zM1123 1121h50v10h-50zM793 1131h20v10h-20zM1113 1131h10v10h-10zM793 1141h20v10h-20zM1103 1141h20v10h-20zM803 1151h20v10h-20zM1093 1151h20v10h-20zM813 1161h10v10h-10zM823 1171h10v10h-10zM1083 1171h10v10h-10zM833 1181h10v10h-10zM833 1191h10v10h-10zM1073 1191h10v10h-10zM853 1201h20v10h-20zM1063 1201h10v10h-10zM1053 1211h10v10h-10zM1043 1221h10v10h-10zM903 1231h20v10h-20zM943 1231h10v10h-10zM993 1231h10v10h-10zM1013 1231h10v10h-10z"/>
<path fill="#afafaf" d="M723 941h40v10h-40zM973 941h60v10h-60zM723 951h60v10h-60zM883 951h80v10h-80zM1033 951h50v10h-50zM723 961h80v10h-80zM823 961h80v10h-80zM1073 961h60v10h-60zM723 971h130v10h-130zM1103 971h80v10h-80zM763 981h70v10h-70zM1123 981h70v10h-70zM773 991h40v10h-40zM1133 991h70v10h-70zM723 1001h40v10h-40zM1143 1001h60v10h-60zM723 1011h50v10h-50zM1153 1011h50v10h-50zM723 1021h60v10h-60zM1153 1021h50v10h-50zM723 1031h60v10h-60zM1163 1031h40v10h-40zM723 1041h60v10h-60zM1163 1041h40v10h-40zM743 1051h40v10h-40zM1173 1051h30v10h-30zM753 1061h30v10h-30zM1173 1061h30v10h-30zM753 1071h20v10h-20zM1183 1071h10v10h-10zM753 1081h20v10h-20zM1183 1081h10v10h-10zM753 1091h20v10h-20zM1183 1091h10v10h-10zM753 1101h20v10h-20zM1183 1101h10v10h-10zM763 1111h20v10h-20zM1173 1111h20v10h-20zM763 1121h20v10h-20zM1173 1121h10v10h-10zM773 1131h20v10h-20zM1123 1131h50v10h-50zM783 1141h10v10h-10zM1123 1141h10v10h-10zM793 1151h10v10h-10zM1113 1151h10v10h-10zM803 1161h10v10h-10zM1093 1161h40v10h-40zM813 1171h10v10h-10zM1113 1171h20v10h-20zM823 1181h10v10h-10zM1083 1181h10v10h-10zM1083 1191h10v10h-10zM843 1201h10v10h-10zM1073 1201h10v10h-10zM873 1211h10v10h-10zM1063 1211h10v10h-10zM963 1221h20v10h-20zM1053 1221h10v10h-10z"/>
<path fill="#aaaaaa" d="M723 911h10v10h-10zM723 921h40v10h-40zM723 931h70v10h-70zM763 941h210v10h-210zM1033 941h150v10h-150zM783 951h100v10h-100zM1083 951h150v10h-150zM803 961h20v10h-20zM1133 961h100v10h-100zM1183 971h50v10h-50zM1193 981h40v10h-40zM1203 991h30v10h-30zM1203 1001h30v10h-30zM1203 1011h30v10h-30zM1203 1021h30v10h-30zM1203 1031h30v10h-30zM1203 1041h30v10h-30zM723 1051h20v10h-20zM1203 1051h30v10h-30zM723 1061h30v10h-30zM1203 1061h30v10h-30zM723 1071h30v10h-30zM1193 1071h40v10h-40zM723 1081h30v10h-30zM1193 1081h10v10h-10zM723 1091h30v10h-30zM1193 1091h10v10h-10zM723 1101h30v10h-30zM1193 1101h10v10h-10zM723 1111h40v10h-40zM753 1121h10v10h-10zM1183 1121h10v10h-10zM763 1131h10v10h-10zM1173 1131h10v10h-10zM773 1141h10v10h-10zM1133 1141h40v10h-40zM783 1151h10v10h-10zM1123 1151h10v10h-10zM793 1161h10v10h-10zM803 1171h10v10h-10zM1093 1171h20v10h-20zM1133 1171h10v10h-10zM1093 1181h10v10h-10zM1113 1181h20v10h-20zM823 1191h10v10h-10zM833 1201h10v10h-10zM1083 1201h10v10h-10zM1073 1211h10v10h-10zM883 1221h10v10h-10zM1063 1221h10v10h-10zM893 1231h10v10h-10zM1023 1231h10v10h-10zM933 1241h10v10h-10z"/>
<path fill="#a5a5a5" d="M743 891h10v10h-10zM733 901h30v10h-30zM733 911h40v10h-40zM763 921h60v10h-60zM1033 921h20v10h-20zM1113 921h70v10h-70zM793 931h440v10h-440zM1183 941h50v10h-50zM1203 1081h30v10h-30zM1203 1091h30v10h-30zM1203 1101h30v10h-30zM1193 1111h10v10h-10zM723 1121h30v10h-30zM753 1131h10v10h-10zM1183 1131h10v10h-10zM753 1141h20v10h-20zM763 1151h20v10h-20zM1133 1151h30v10h-30zM783 1161h10v10h-10zM1133 1161h20v10h-20zM793 1171h10v10h-10zM1143 1171h10v10h-10zM813 1181h10v10h-10zM1103 1181h10v10h-10zM1133 1181h10v10h-10zM1093 1191h10v10h-10zM1093 1201h10v10h-10zM843 1211h30v10h-30zM1083 1211h10v10h-10zM1073 1221h10v10h-10zM953 1231h10v10h-10zM983 1231h10v10h-10zM1033 1231h10v10h-10zM913 1241h20v10h-20zM943 1241h10v10h-10z"/>
<path fill="#9f9f9f" d="M753 881h10v10h-10zM753 891h20v10h-20zM763 901h30v10h-30zM1213 901h10v10h-10zM773 911h140v10h-140zM1023 911h200v10h-200zM823 921h210v10h-210zM1053 921h60v10h-60zM1183 921h50v10h-50zM1203 1111h30v10h-30zM1193 1121h10v10h-10zM723 1131h30v10h-30zM723 1141h30v10h-30zM1173 1141h10v10h-10zM723 1151h40v10h-40zM1163 1151h10v10h-10zM723 1161h10v10h-10zM773 1161h10v10h-10zM1153 1161h10v10h-10zM783 1171h10v10h-10zM1153 1171h10v10h-10zM803 1181h10v10h-10zM1143 1181h10v10h-10zM1103 1191h30v10h-30zM823 1201h10v10h-10zM1093 1211h10v10h-10zM1083 1221h10v10h-10zM1043 1231h10v10h-10zM903 1241h10v10h-10zM1003 1241h10v10h-10z"/>
<path fill="#9a9a9a" d="M763 871h10v10h-10zM763 881h20v10h-20zM1183 881h20v10h-20zM773 891h30v10h-30zM1163 891h50v10h-50zM793 901h130v10h-130zM1023 901h190v10h-190zM913 911h50v10h-50zM983 911h40v10h-40zM1203 1121h30v10h-30zM1193 1131h10v10h-10zM1183 1141h10v10h-10zM733 1161h40v10h-40zM733 1171h30v10h-30zM773 1171h10v10h-10zM743 1181h10v10h-10zM793 1181h10v10h-10zM1153 1181h10v10h-10zM813 1191h10v10h-10zM1133 1191h10v10h-10zM1103 1201h10v10h-10zM833 1211h10v10h-10zM1103 1211h10v10h-10zM873 1221h10v10h-10zM1093 1221h10v10h-10zM963 1231h20v10h-20zM1053 1231h40v10h-40zM993 1241h10v10h-10z"/>
<path fill="#959595" d="M773 861h10v10h-10zM773 871h20v10h-20zM1173 871h20v10h-20zM783 881h100v10h-100zM1053 881h130v10h-130zM803 891h130v10h-130zM1013 891h150v10h-150zM923 901h40v10h-40zM983 901h40v10h-40zM963 911h20v10h-20zM1163 1161h10v10h-10zM763 1171h10v10h-10zM753 1181h20v10h-20zM783 1181h10v10h-10zM753 1191h10v10h-10zM803 1191h10v10h-10zM1143 1191h10v10h-10zM1113 1201h30v10h-30zM1113 1211h30v10h-30zM1103 1221h20v10h-20zM883 1231h10v10h-10zM1093 1231h20v10h-20zM893 1241h10v10h-10zM953 1241h10v10h-10zM1013 1241h10v10h-10z"/>
<path fill="#8f8f8f" d="M783 851h10v10h-10zM783 861h20v10h-20zM1163 861h20v10h-20zM793 871h100v10h-100zM1043 871h130v10h-130zM883 881h50v10h-50zM1013 881h40v10h-40zM933 891h30v10h-30zM983 891h30v10h-30zM963 901h20v10h-20zM1203 1131h30v10h-30zM1193 1141h40v10h-40zM1173 1151h10v10h-10zM1223 1151h10v10h-10zM1163 1171h10v10h-10zM773 1181h10v10h-10zM763 1191h20v10h-20zM1153 1191h10v10h-10zM753 1201h10v10h-10zM813 1201h10v10h-10zM1143 1201h10v10h-10zM863 1221h10v10h-10zM1123 1221h20v10h-20zM1113 1231h10v10h-10zM983 1241h10v10h-10zM1023 1241h10v10h-10zM1083 1241h30v10h-30zM933 1251h10v10h-10z"/>
<path fill="#8a8a8a" d="M803 831h20v10h-20zM1133 831h20v10h-20zM793 841h40v10h-40zM1133 841h30v10h-30zM793 851h50v10h-50zM1093 851h80v10h-80zM803 861h100v10h-100zM1043 861h120v10h-120zM893 871h40v10h-40zM1013 871h30v10h-30zM933 881h80v10h-80zM963 891h20v10h-20zM1163 1181h10v10h-10zM783 1191h20v10h-20zM823 1211h10v10h-10zM1143 1211h10v10h-10zM843 1221h20v10h-20zM1123 1231h20v10h-20zM1033 1241h10v10h-10zM1073 1241h10v10h-10zM1113 1241h10v10h-10zM923 1251h10v10h-10zM943 1251h10v10h-10z"/>
<path fill="#858585" d="M813 821h20v10h-20zM1113 821h30v10h-30zM823 831h20v10h-20zM1113 831h20v10h-20zM833 841h20v10h-20zM1083 841h50v10h-50zM843 851h60v10h-60zM1043 851h50v10h-50zM903 861h30v10h-30zM1013 861h30v10h-30zM933 871h80v10h-80zM1183 1151h10v10h-10zM803 1201h10v10h-10zM1153 1201h10v10h-10zM1153 1211h20v10h-20zM833 1221h10v10h-10zM1143 1221h40v10h-40zM873 1231h10v10h-10zM1173 1231h10v10h-10zM963 1241h20v10h-20zM1043 1241h30v10h-30zM1123 1241h20v10h-20zM913 1251h10v10h-10zM953 1251h10v10h-10zM1093 1251h30v10h-30z"/>
<path fill="#808080" d="M833 811h20v10h-20zM1113 811h10v10h-10zM833 821h30v10h-30zM1103 821h10v10h-10zM843 831h20v10h-20zM1083 831h30v10h-30zM853 841h50v10h-50zM1043 841h40v10h-40zM903 851h30v10h-30zM1013 851h30v10h-30zM933 861h20v10h-20zM993 861h20v10h-20zM1193 1151h30v10h-30zM1173 1161h10v10h-10zM1203 1161h20v10h-20zM1213 1171h10v10h-10zM1163 1191h20v10h-20zM813 1211h10v10h-10zM1143 1231h30v10h-30zM883 1241h10v10h-10zM1143 1241h30v10h-30zM903 1251h10v10h-10zM1083 1251h10v10h-10zM1123 1251h40v10h-40zM1123 1261h30v10h-30zM1123 1271h20v10h-20z"/>
<path fill="#7a7a7a" d="M863 791h20v10h-20zM843 801h40v10h-40zM1083 801h20v10h-20zM853 811h30v10h-30zM1083 811h30v10h-30zM863 821h20v10h-20zM1073 821h30v10h-30zM863 831h40v10h-40zM1043 831h40v10h-40zM903 841h30v10h-30zM1013 841h30v10h-30zM933 851h20v10h-20zM993 851h20v10h-20zM953 861h40v10h-40zM763 1201h40v10h-40zM1163 1201h30v10h-30zM763 1211h30v10h-30zM1173 1211h20v10h-20zM763 1221h10v10h-10zM893 1251h10v10h-10zM963 1251h10v10h-10zM983 1251h20v10h-20zM1073 1251h10v10h-10zM943 1261h20v10h-20zM1093 1261h30v10h-30zM1093 1271h30v10h-30zM953 1281h30v10h-30zM1093 1281h40v10h-40zM963 1291h20v10h-20zM1093 1291h20v10h-20z"/>
<path fill="#757575" d="M1063 791h30v10h-30zM883 801h10v10h-10zM1063 801h20v10h-20zM883 811h20v10h-20zM1063 811h20v10h-20zM883 821h40v10h-40zM1033 821h40v10h-40zM903 831h30v10h-30zM1013 831h30v10h-30zM933 841h10v10h-10zM1003 841h10v10h-10zM953 851h40v10h-40zM1183 1161h20v10h-20zM1173 1171h10v10h-10zM1173 1181h20v10h-20zM1183 1191h20v10h-20zM1193 1201h10v10h-10zM803 1211h10v10h-10zM823 1221h10v10h-10zM863 1231h10v10h-10zM973 1251h10v10h-10zM1003 1251h20v10h-20zM1063 1251h10v10h-10zM923 1261h20v10h-20zM963 1261h10v10h-10zM1083 1261h10v10h-10zM943 1271h40v10h-40zM1083 1271h10v10h-10zM943 1281h10v10h-10zM983 1281h10v10h-10zM1083 1281h10v10h-10zM943 1291h20v10h-20zM983 1291h10v10h-10zM1083 1291h10v10h-10zM933 1301h50v10h-50zM943 1311h40v10h-40zM953 1321h30v10h-30z"/>
<path fill="#707070" d="M903 781h20v10h-20zM883 791h40v10h-40zM893 801h30v10h-30zM903 811h30v10h-30zM1023 811h40v10h-40zM923 821h20v10h-20zM1013 821h20v10h-20zM933 831h20v10h-20zM993 831h20v10h-20zM943 841h20v10h-20zM983 841h20v10h-20zM843 1231h20v10h-20zM873 1241h10v10h-10zM883 1251h10v10h-10zM1023 1251h10v10h-10zM913 1261h10v10h-10zM973 1261h20v10h-20zM983 1271h10v10h-10zM983 1301h20v10h-20zM983 1311h30v10h-30zM983 1321h20v10h-20z"/>
<path fill="#6a6a6a" d="M923 781h30v10h-30zM1033 781h40v10h-40zM923 791h30v10h-30zM1033 791h30v10h-30zM923 801h30v10h-30zM1013 801h50v10h-50zM933 811h20v10h-20zM1003 811h20v10h-20zM943 821h20v10h-20zM983 821h30v10h-30zM953 831h40v10h-40zM963 841h20v10h-20zM793 1211h10v10h-10zM813 1221h10v10h-10zM833 1231h10v10h-10zM1053 1251h10v10h-10zM1073 1261h10v10h-10zM933 1271h10v10h-10zM1073 1271h10v10h-10zM933 1281h10v10h-10zM1073 1281h10v10h-10zM933 1291h10v10h-10zM993 1291h30v10h-30zM1073 1291h10v10h-10zM1003 1301h20v10h-20z"/>
<path fill="#656565" d="M953 781h20v10h-20zM983 781h50v10h-50zM953 791h80v10h-80zM953 801h60v10h-60zM953 811h50v10h-50zM963 821h20v10h-20zM1183 1171h30v10h-30zM1193 1181h20v10h-20zM803 1221h10v10h-10zM823 1231h10v10h-10zM863 1241h10v10h-10zM873 1251h10v10h-10zM1033 1251h20v10h-20zM903 1261h10v10h-10zM993 1261h10v10h-10zM923 1271h10v10h-10zM993 1271h10v10h-10zM923 1281h10v10h-10zM993 1281h20v10h-20zM923 1291h10v10h-10zM923 1301h10v10h-10z"/>
<path fill="#606060" d="M773 1221h30v10h-30zM773 1231h30v10h-30zM783 1241h10v10h-10zM833 1241h30v10h-30zM893 1261h10v10h-10zM1063 1261h10v10h-10zM893 1271h10v10h-10zM913 1271h10v10h-10zM1063 1271h10v10h-10zM913 1281h10v10h-10zM1063 1281h10v10h-10zM913 1291h10v10h-10zM913 1301h10v10h-10z"/>
<path fill="#5a5a5a" d="M813 1231h10v10h-10zM823 1241h10v10h-10zM833 1251h40v10h-40zM883 1261h10v10h-10zM1003 1261h20v10h-20z"/>
<path fill="#555555" d="M803 1231h10v10h-10zM793 1241h20v10h-20zM793 1251h10v10h-10zM823 1251h10v10h-10zM813 1261h70v10h-70zM1023 1261h10v10h-10zM1053 1261h10v10h-10zM813 1271h50v10h-50zM903 1271h10v10h-10zM1003 1271h10v10h-10zM823 1281h30v10h-30zM893 1281h20v10h-20zM833 1291h10v10h-10zM893 1291h20v10h-20zM903 1301h10v10h-10z"/>
<path fill="#505050" d="M813 1241h10v10h-10zM803 1251h20v10h-20zM803 1261h10v10h-10zM1033 1261h20v10h-20zM863 1271h30v10h-30zM1013 1271h10v10h-10zM853 1281h40v10h-40zM1013 1281h10v10h-10zM843 1291h50v10h-50zM863 1301h20v10h-20z"/>
<path fill="#454545" d="M1023 1271h10v10h-10zM1043 1271h20v10h-20zM1023 1281h10v10h-10zM1043 1281h20v10h-20zM1023 1291h10v10h-10zM1043 1291h30v10h-30zM1023 1301h10v10h-10zM1043 1301h10v10h-10z"/>
<path fill="#404040" d="M1033 1271h10v10h-10zM1033 1281h10v10h-10zM1033 1291h10v10h-10zM1033 1301h10v10h-10z"/>
</g>

</g>
<path d="M974.9 835V960" stroke="#e02000" stroke-opacity="0.45" stroke-width="1.2" fill="none"/><path d="M974.9 960V1225" stroke="#ff9000" stroke-opacity="0.2" stroke-width="1.2" fill="none"/><path fill="#000" d="M1090 1248.2L1094.8 1249.4L1096.4 1251.8L1092.4 1252.6L1091.6 1256.2L1088.4 1254.6L1088.4 1250.6Z"/><path d="M1072.3 1260.2L1078 1261.4M1079.5 1262.2H1086" stroke="#000" stroke-width="1.2" fill="none"/>
</g>
<g stroke="#262626" stroke-width="1.6" fill="none">
<path d="M121.6 191 V704.8 H532"/>
<path d="M149.6 704.8v-5.5M206.9 704.8v-5.5M264.3 704.8v-5.5M321.6 704.8v-5.5M378.9 704.8v-5.5M436.3 704.8v-5.5M493.6 704.8v-5.5M121.6 224.4h5.5M121.6 281.4h5.5M121.6 338.4h5.5M121.6 395.4h5.5M121.6 452.4h5.5M121.6 509.4h5.5M121.6 566.4h5.5M121.6 623.4h5.5M121.6 680.4h5.5" stroke-width="1.4"/>
</g>
<g font-size="30.3" fill="#000" stroke="#fff" stroke-width="0.3" paint-order="fill">
<text x="142" y="730.3" text-anchor="middle">−60</text>
<text x="201.2" y="730.3" text-anchor="middle">−40</text>
<text x="261.3" y="730.3" text-anchor="middle">−20</text>
<text x="322.1" y="730.3" text-anchor="middle">0</text>
<text x="374.8" y="730.3" text-anchor="middle">20</text>
<text x="433.8" y="730.3" text-anchor="middle">40</text>
<text x="493.3" y="730.3" text-anchor="middle">60</text>
<text x="120.3" y="234.9" text-anchor="end">80</text>
<text x="120.3" y="291.9" text-anchor="end">60</text>
<text x="120.3" y="348.9" text-anchor="end">40</text>
<text x="120.3" y="405.9" text-anchor="end">20</text>
<text x="120.3" y="462.9" text-anchor="end">0</text>
<text x="120.3" y="519.9" text-anchor="end">−20</text>
<text x="120.3" y="576.9" text-anchor="end">−40</text>
<text x="120.3" y="633.9" text-anchor="end">−60</text>
<text x="120.3" y="690.9" text-anchor="end">−80</text>
</g>
<g stroke="#262626" stroke-width="1.6" fill="none">
<path d="M708.7 216 V704.8 H1281"/>
<path d="M745.2 704.8v-5.5M808.5 704.8v-5.5M871.9 704.8v-5.5M935.2 704.8v-5.5M998.6 704.8v-5.5M1062 704.8v-5.5M1125.3 704.8v-5.5M1188.7 704.8v-5.5M1252 704.8v-5.5M708.7 227.4h5.5M708.7 290.9h5.5M708.7 354.4h5.5M708.7 417.9h5.5M708.7 481.4h5.5M708.7 544.9h5.5M708.7 608.4h5.5M708.7 671.9h5.5" stroke-width="1.4"/>
</g>
<g font-size="30.3" fill="#000" stroke="#fff" stroke-width="0.3" paint-order="fill">
<text x="745.5" y="730.3" text-anchor="middle">80</text>
<text x="809.1" y="730.3" text-anchor="middle">60</text>
<text x="873.2" y="730.3" text-anchor="middle">40</text>
<text x="937.2" y="730.3" text-anchor="middle">20</text>
<text x="998.3" y="730.3" text-anchor="middle">0</text>
<text x="1059" y="730.3" text-anchor="middle">−20</text>
<text x="1121.5" y="730.3" text-anchor="middle">−40</text>
<text x="1183.4" y="730.3" text-anchor="middle">−60</text>
<text x="1253.6" y="730.3" text-anchor="middle">−80</text>
<text x="706.5" y="237.9" text-anchor="end">60</text>
<text x="706.5" y="301.4" text-anchor="end">40</text>
<text x="706.5" y="364.9" text-anchor="end">20</text>
<text x="706.5" y="428.4" text-anchor="end">0</text>
<text x="706.5" y="491.9" text-anchor="end">−20</text>
<text x="706.5" y="555.4" text-anchor="end">−40</text>
<text x="706.5" y="618.9" text-anchor="end">−60</text>
<text x="706.5" y="682.4" text-anchor="end">−80</text>
</g>
<g stroke="#262626" stroke-width="1.1" fill="none">
<path d="M119.4 792 V1306 H602"/>
<path d="M165.7 1306v-5.5M232.6 1306v-5.5M299.5 1306v-5.5M366.4 1306v-5.5M433.3 1306v-5.5M500.2 1306v-5.5M567.1 1306v-5.5M119.4 805.1h5.5M119.4 871.7h5.5M119.4 938.3h5.5M119.4 1004.9h5.5M119.4 1071.5h5.5M119.4 1138.1h5.5M119.4 1204.7h5.5M119.4 1271.3h5.5" stroke-width="1.4"/>
</g>
<g font-size="30.3" fill="#000" stroke="#fff" stroke-width="0.3" paint-order="fill">
<text x="164.7" y="1331.6" text-anchor="middle">60</text>
<text x="232" y="1331.6" text-anchor="middle">40</text>
<text x="298.9" y="1331.6" text-anchor="middle">20</text>
<text x="366.7" y="1331.6" text-anchor="middle">0</text>
<text x="424.9" y="1331.6" text-anchor="middle">−20</text>
<text x="496.3" y="1331.6" text-anchor="middle">−40</text>
<text x="561.3" y="1331.6" text-anchor="middle">−60</text>
<text x="114.4" y="815.8" text-anchor="end">60</text>
<text x="114.4" y="882.4" text-anchor="end">40</text>
<text x="114.4" y="949" text-anchor="end">20</text>
<text x="114.4" y="1015.6" text-anchor="end">0</text>
<text x="114.4" y="1082.2" text-anchor="end">−20</text>
<text x="114.4" y="1148.8" text-anchor="end">−40</text>
<text x="114.4" y="1215.4" text-anchor="end">−60</text>
<text x="114.4" y="1282" text-anchor="end">−80</text>
</g>
<g stroke="#262626" stroke-width="2.1" fill="none">
<path d="M737 794.5 V1308.6 H1219"/>
<path d="M770.3 1308.6v-5.5M837.3 1308.6v-5.5M904.3 1308.6v-5.5M971.3 1308.6v-5.5M1038.3 1308.6v-5.5M1105.3 1308.6v-5.5M1172.3 1308.6v-5.5M737 803.8h5.5M737 871h5.5M737 938.2h5.5M737 1005.4h5.5M737 1072.6h5.5M737 1139.8h5.5M737 1207h5.5M737 1274.2h5.5" stroke-width="1.4"/>
</g>
<g font-size="30.3" fill="#000" stroke="#fff" stroke-width="0.3" paint-order="fill">
<text x="774.6" y="1332.1" text-anchor="middle">60</text>
<text x="841.2" y="1332.1" text-anchor="middle">40</text>
<text x="907.9" y="1332.1" text-anchor="middle">20</text>
<text x="975.3" y="1332.1" text-anchor="middle">0</text>
<text x="1034.4" y="1332.1" text-anchor="middle">−20</text>
<text x="1105.7" y="1332.1" text-anchor="middle">−40</text>
<text x="1170.8" y="1332.1" text-anchor="middle">−60</text>
<text x="731.5" y="817" text-anchor="end">60</text>
<text x="731.5" y="884.2" text-anchor="end">40</text>
<text x="731.5" y="951.4" text-anchor="end">20</text>
<text x="731.5" y="1018.6" text-anchor="end">0</text>
<text x="731.5" y="1085.8" text-anchor="end">−20</text>
<text x="731.5" y="1153" text-anchor="end">−40</text>
<text x="731.5" y="1220.2" text-anchor="end">−60</text>
<text x="731.5" y="1287.4" text-anchor="end">−80</text>
</g>
<g font-size="46" fill="#000">
<text x="19" y="227.4">a)</text>
<text x="613" y="224.6">b)</text>
<text x="19.5" y="801">c)</text>
<text x="610.5" y="780">d)</text>
</g>
<g font-size="39" fill="#000" text-anchor="middle">
<text x="315.8" y="776">x (mm)</text>
<text x="998.5" y="775.5">y (mm)</text>
<text x="360.4" y="1380.5">x (mm)</text>
<text x="970.8" y="1380.5">x (mm)</text>
<text transform="translate(39.2 456.4) rotate(-90)">y (mm)</text>
<text transform="translate(637.1 457.3) rotate(-90)">z (mm)</text>
<text transform="translate(41 1060.4) rotate(-90)">z (mm)</text>
<text transform="translate(660.9 1060.4) rotate(-90)">z (mm)</text>
</g>
<rect x="1377.3" y="338.6" width="54" height="873.6" fill="url(#hot)" stroke="#333" stroke-width="1.4"/>
<path d="M1431.3 1166.8h-9M1431.3 1074.9h-9M1431.3 982.9h-9M1431.3 891h-9M1431.3 799h-9M1431.3 707.1h-9M1431.3 615.2h-9M1431.3 523.2h-9M1431.3 431.3h-9" stroke="#333" stroke-width="1.3" fill="none"/>
<g font-size="36" fill="#000">
<text x="1442.5" y="1180.7">2</text>
<text x="1442.5" y="1088.8">4</text>
<text x="1442.5" y="996.8">6</text>
<text x="1442.5" y="904.9">8</text>
<text x="1442.5" y="812.9">10</text>
<text x="1442.5" y="721">12</text>
<text x="1442.5" y="629.1">14</text>
<text x="1442.5" y="537.1">16</text>
<text x="1442.5" y="445.2">18</text>
<text x="1442.5" y="353.2">20</text>
</g>
</svg></body></html>
